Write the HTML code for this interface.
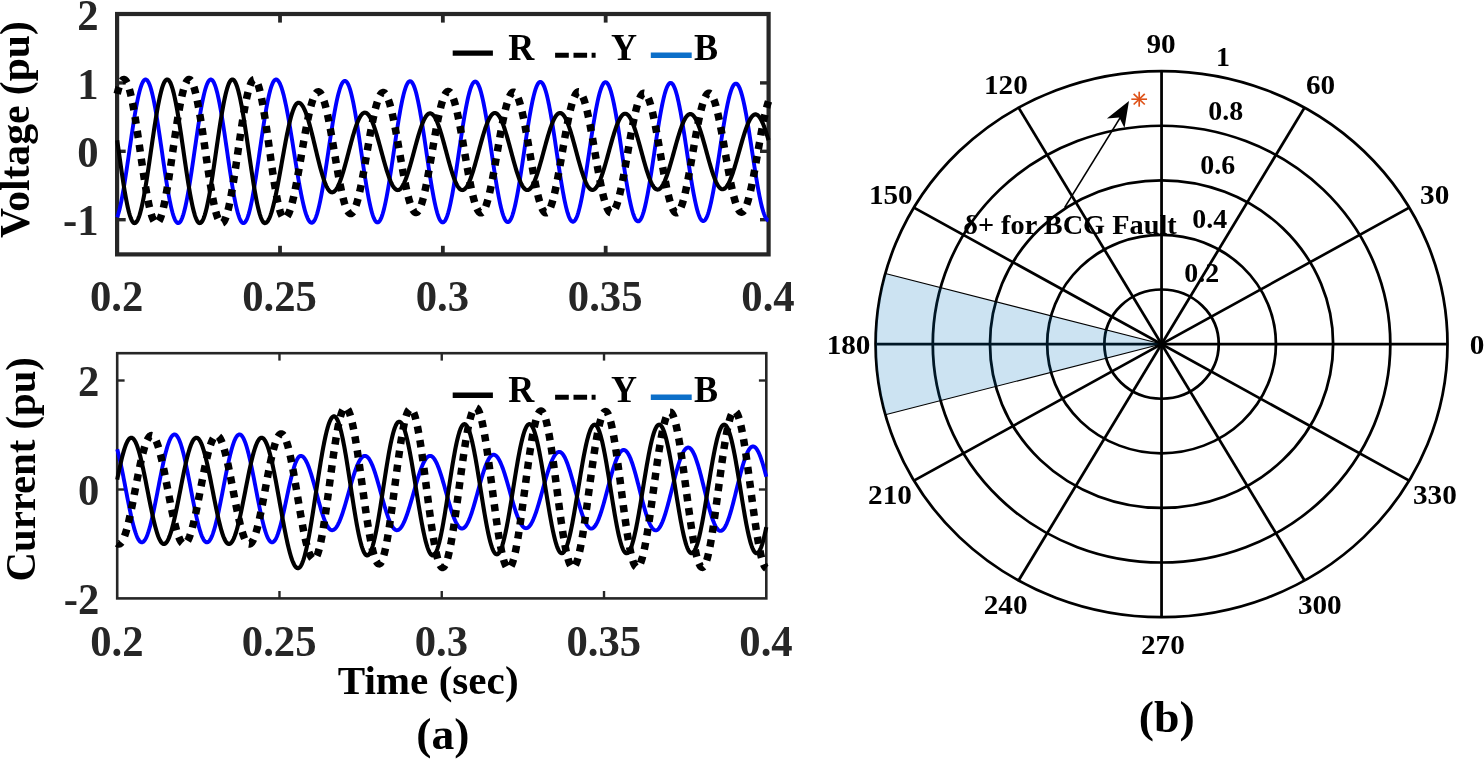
<!DOCTYPE html>
<html lang="en"><head><meta charset="utf-8"><title>Figure</title>
<style>html,body{margin:0;padding:0;background:#fff;}body{width:1484px;height:759px;overflow:hidden;}svg{display:block;}text{font-family:"Liberation Serif","Times New Roman",serif;font-weight:bold;}</style>
</head><body>
<svg width="1484" height="759" viewBox="0 0 1484 759">
<rect x="0" y="0" width="1484" height="759" fill="#fff"/>
<defs>
<clipPath id="ct"><rect x="109.2" y="14.1" width="667.3" height="240.2"/></clipPath>
<clipPath id="cb"><rect x="109.2" y="353.2" width="665.1" height="245.2"/></clipPath>
</defs>
<g stroke="#262626" fill="none">
<rect x="117.10" y="14.00" width="651.50" height="240.40" stroke-width="4.2"/>
<line x1="280.02" y1="14.00" x2="280.02" y2="22.60" stroke-width="3.8"/>
<line x1="280.02" y1="254.40" x2="280.02" y2="245.80" stroke-width="3.8"/>
<line x1="442.85" y1="14.00" x2="442.85" y2="22.60" stroke-width="3.8"/>
<line x1="442.85" y1="254.40" x2="442.85" y2="245.80" stroke-width="3.8"/>
<line x1="605.67" y1="14.00" x2="605.67" y2="22.60" stroke-width="3.8"/>
<line x1="605.67" y1="254.40" x2="605.67" y2="245.80" stroke-width="3.8"/>
<line x1="117.10" y1="82.90" x2="125.70" y2="82.90" stroke-width="3.4"/>
<line x1="768.60" y1="82.90" x2="760.00" y2="82.90" stroke-width="3.4"/>
<line x1="117.10" y1="151.30" x2="125.70" y2="151.30" stroke-width="3.4"/>
<line x1="768.60" y1="151.30" x2="760.00" y2="151.30" stroke-width="3.4"/>
<line x1="117.10" y1="219.70" x2="125.70" y2="219.70" stroke-width="3.4"/>
<line x1="768.60" y1="219.70" x2="760.00" y2="219.70" stroke-width="3.4"/>
</g>
<g clip-path="url(#ct)" fill="none" stroke-linejoin="round">
<path d="M117.20 217.32 L117.70 215.88 L118.20 214.29 L118.70 212.56 L119.20 210.68 L119.70 208.67 L120.20 206.52 L120.70 204.24 L121.20 201.85 L121.70 199.33 L122.20 196.70 L122.70 193.97 L123.20 191.14 L123.70 188.22 L124.20 185.21 L124.70 182.12 L125.20 178.96 L125.70 175.74 L126.20 172.46 L126.70 169.13 L127.20 165.76 L127.70 162.35 L128.20 158.92 L128.70 155.47 L129.20 152.02 L129.70 148.56 L130.20 145.11 L130.70 141.67 L131.20 138.25 L131.70 134.87 L132.20 131.52 L132.70 128.22 L133.20 124.97 L133.69 121.78 L134.19 118.66 L134.69 115.62 L135.19 112.66 L135.69 109.79 L136.19 107.02 L136.69 104.35 L137.19 101.78 L137.69 99.34 L138.19 97.01 L138.69 94.81 L139.19 92.74 L139.69 90.81 L140.19 89.01 L140.69 87.36 L141.19 85.86 L141.69 84.51 L142.19 83.32 L142.69 82.28 L143.19 81.41 L143.69 80.69 L144.19 80.14 L144.69 79.76 L145.19 79.54 L145.69 79.48 L146.19 79.60 L146.69 79.88 L147.19 80.32 L147.69 80.93 L148.19 81.71 L148.69 82.64 L149.19 83.74 L149.69 84.99 L150.19 86.39 L150.69 87.95 L151.19 89.65 L151.69 91.50 L152.19 93.48 L152.69 95.60 L153.19 97.85 L153.69 100.22 L154.19 102.71 L154.69 105.31 L155.19 108.02 L155.69 110.83 L156.19 113.73 L156.69 116.72 L157.19 119.80 L157.69 122.94 L158.19 126.15 L158.69 129.42 L159.19 132.74 L159.69 136.10 L160.19 139.50 L160.69 142.92 L161.19 146.37 L161.69 149.82 L162.19 153.28 L162.69 156.74 L163.19 160.18 L163.69 163.60 L164.19 166.99 L164.69 170.35 L165.19 173.66 L165.69 176.92 L166.18 180.12 L166.68 183.26 L167.18 186.32 L167.68 189.29 L168.18 192.18 L168.68 194.98 L169.18 197.67 L169.68 200.26 L170.18 202.73 L170.68 205.09 L171.18 207.32 L171.68 209.42 L172.18 211.38 L172.68 213.21 L173.18 214.89 L173.68 216.42 L174.18 217.80 L174.68 219.03 L175.18 220.10 L175.68 221.02 L176.18 221.77 L176.68 222.35 L177.18 222.77 L177.68 223.03 L178.18 223.12 L178.68 223.04 L179.18 222.80 L179.68 222.39 L180.18 221.82 L180.68 221.08 L181.18 220.18 L181.68 219.12 L182.18 217.90 L182.68 216.53 L183.18 215.01 L183.68 213.34 L184.18 211.52 L184.68 209.57 L185.18 207.48 L185.68 205.26 L186.18 202.92 L186.68 200.45 L187.18 197.87 L187.68 195.19 L188.18 192.40 L188.68 189.51 L189.18 186.54 L189.68 183.49 L190.18 180.36 L190.68 177.16 L191.18 173.91 L191.68 170.60 L192.18 167.24 L192.68 163.85 L193.18 160.43 L193.68 156.99 L194.18 153.54 L194.68 150.08 L195.18 146.62 L195.68 143.18 L196.18 139.75 L196.68 136.35 L197.18 132.99 L197.68 129.66 L198.18 126.39 L198.67 123.18 L199.17 120.03 L199.67 116.95 L200.17 113.95 L200.67 111.04 L201.17 108.23 L201.67 105.51 L202.17 102.90 L202.67 100.40 L203.17 98.02 L203.67 95.76 L204.17 93.63 L204.67 91.64 L205.17 89.78 L205.67 88.07 L206.17 86.50 L206.67 85.09 L207.17 83.82 L207.67 82.72 L208.17 81.77 L208.67 80.99 L209.17 80.36 L209.67 79.90 L210.17 79.61 L210.67 79.49 L211.17 79.53 L211.67 79.73 L212.17 80.11 L212.67 80.64 L213.17 81.35 L213.67 82.21 L214.17 83.23 L214.67 84.42 L215.17 85.75 L215.67 87.24 L216.17 88.88 L216.67 90.67 L217.17 92.59 L217.67 94.65 L218.17 96.84 L218.67 99.16 L219.17 101.60 L219.67 104.15 L220.17 106.81 L220.67 109.58 L221.17 112.44 L221.67 115.40 L222.17 118.43 L222.67 121.55 L223.17 124.73 L223.67 127.97 L224.17 131.27 L224.67 134.61 L225.17 138.00 L225.67 141.41 L226.17 144.85 L226.67 148.30 L227.17 151.76 L227.67 155.22 L228.17 158.66 L228.67 162.10 L229.17 165.50 L229.67 168.88 L230.17 172.21 L230.67 175.49 L231.17 178.72 L231.66 181.88 L232.16 184.98 L232.66 187.99 L233.16 190.92 L233.66 193.76 L234.16 196.50 L234.66 199.14 L235.16 201.66 L235.66 204.07 L236.16 206.35 L236.66 208.51 L237.16 210.53 L237.66 212.42 L238.16 214.17 L238.66 215.76 L239.16 217.21 L239.66 218.51 L240.16 219.65 L240.66 220.63 L241.16 221.46 L241.66 222.11 L242.16 222.61 L242.66 222.94 L243.16 223.10 L243.66 223.10 L244.16 222.93 L244.66 222.59 L245.16 222.09 L245.66 221.42 L246.16 220.59 L246.66 219.60 L247.16 218.46 L247.66 217.15 L248.16 215.70 L248.66 214.09 L249.16 212.34 L249.66 210.45 L250.16 208.42 L250.66 206.25 L251.16 203.96 L251.66 201.55 L252.16 199.02 L252.66 196.38 L253.16 193.64 L253.66 190.79 L254.16 187.86 L254.66 184.84 L255.16 181.74 L255.66 178.58 L256.16 175.35 L256.66 172.06 L257.16 168.72 L257.66 165.35 L258.16 161.94 L258.66 158.51 L259.16 155.06 L259.66 151.60 L260.16 148.14 L260.66 144.69 L261.16 141.26 L261.66 137.84 L262.16 134.46 L262.66 131.12 L263.16 127.83 L263.66 124.58 L264.15 121.41 L264.65 118.30 L265.15 115.26 L265.65 112.31 L266.15 109.45 L266.65 106.69 L267.15 104.03 L267.65 101.48 L268.15 99.05 L268.65 96.74 L269.15 94.55 L269.65 92.50 L270.15 90.58 L270.65 88.81 L271.15 87.17 L271.65 85.69 L272.15 84.36 L272.65 83.19 L273.15 82.17 L273.65 81.31 L274.15 80.62 L274.65 80.09 L275.15 79.72 L275.65 79.52 L276.15 79.49 L276.65 79.60 L277.15 79.85 L277.65 80.23 L278.15 80.76 L278.65 81.42 L279.15 82.22 L279.65 83.14 L280.15 84.20 L280.65 85.39 L281.15 86.71 L281.65 88.15 L282.15 89.72 L282.65 91.40 L283.15 93.20 L283.65 95.11 L284.15 97.13 L284.65 99.25 L285.15 101.47 L285.65 103.79 L286.15 106.20 L286.65 108.70 L287.15 111.28 L287.65 113.94 L288.15 116.66 L288.65 119.46 L289.15 122.32 L289.65 125.23 L290.15 128.19 L290.65 131.20 L291.15 134.24 L291.65 137.32 L292.15 140.43 L292.65 143.55 L293.15 146.69 L293.65 149.84 L294.15 152.99 L294.65 156.14 L295.15 159.28 L295.65 162.40 L296.15 165.50 L296.64 168.57 L297.14 171.61 L297.64 174.61 L298.14 177.57 L298.64 180.47 L299.14 183.31 L299.64 186.10 L300.14 188.81 L300.64 191.46 L301.14 194.02 L301.64 196.50 L302.14 198.90 L302.64 201.20 L303.14 203.41 L303.64 205.51 L304.14 207.51 L304.64 209.40 L305.14 211.18 L305.64 212.84 L306.14 214.38 L306.64 215.80 L307.14 217.09 L307.64 218.26 L308.14 219.29 L308.64 220.20 L309.14 220.97 L309.64 221.60 L310.14 222.10 L310.64 222.47 L311.14 222.69 L311.64 222.78 L312.14 222.72 L312.64 222.50 L313.14 222.12 L313.64 221.59 L314.14 220.90 L314.64 220.05 L315.14 219.05 L315.64 217.91 L316.14 216.61 L316.64 215.17 L317.14 213.59 L317.64 211.87 L318.14 210.01 L318.64 208.03 L319.14 205.91 L319.64 203.68 L320.14 201.33 L320.64 198.88 L321.14 196.31 L321.64 193.65 L322.14 190.89 L322.64 188.05 L323.14 185.12 L323.64 182.12 L324.14 179.05 L324.64 175.93 L325.14 172.74 L325.64 169.51 L326.14 166.24 L326.64 162.94 L327.14 159.62 L327.64 156.27 L328.14 152.92 L328.64 149.56 L329.13 146.21 L329.63 142.87 L330.13 139.56 L330.63 136.26 L331.13 133.01 L331.63 129.79 L332.13 126.63 L332.63 123.52 L333.13 120.47 L333.63 117.50 L334.13 114.60 L334.63 111.78 L335.13 109.06 L335.63 106.43 L336.13 103.90 L336.63 101.48 L337.13 99.17 L337.63 96.98 L338.13 94.91 L338.63 92.97 L339.13 91.16 L339.63 89.49 L340.13 87.95 L340.63 86.56 L341.13 85.31 L341.63 84.22 L342.13 83.27 L342.63 82.48 L343.13 81.84 L343.63 81.36 L344.13 81.04 L344.63 80.87 L345.13 80.87 L345.63 81.02 L346.13 81.34 L346.63 81.83 L347.13 82.48 L347.63 83.28 L348.13 84.25 L348.63 85.37 L349.13 86.65 L349.63 88.07 L350.13 89.65 L350.63 91.36 L351.13 93.22 L351.63 95.21 L352.13 97.34 L352.63 99.59 L353.13 101.96 L353.63 104.44 L354.13 107.04 L354.63 109.74 L355.13 112.53 L355.63 115.42 L356.13 118.39 L356.63 121.44 L357.13 124.56 L357.63 127.74 L358.13 130.98 L358.63 134.26 L359.13 137.58 L359.63 140.94 L360.13 144.32 L360.63 147.72 L361.13 151.13 L361.62 154.54 L362.12 157.94 L362.62 161.33 L363.12 164.70 L363.62 168.03 L364.12 171.33 L364.62 174.58 L365.12 177.78 L365.62 180.92 L366.12 183.99 L366.62 186.98 L367.12 189.89 L367.62 192.72 L368.12 195.45 L368.62 198.07 L369.12 200.59 L369.62 203.00 L370.12 205.28 L370.62 207.45 L371.12 209.48 L371.62 211.38 L372.12 213.14 L372.62 214.76 L373.12 216.23 L373.62 217.55 L374.12 218.72 L374.62 219.73 L375.12 220.58 L375.62 221.28 L376.12 221.81 L376.62 222.18 L377.12 222.39 L377.62 222.43 L378.12 222.31 L378.62 222.02 L379.12 221.57 L379.62 220.96 L380.12 220.19 L380.62 219.26 L381.12 218.17 L381.62 216.93 L382.12 215.53 L382.62 213.99 L383.12 212.30 L383.62 210.48 L384.12 208.51 L384.62 206.42 L385.12 204.19 L385.62 201.85 L386.12 199.39 L386.62 196.81 L387.12 194.14 L387.62 191.36 L388.12 188.49 L388.62 185.54 L389.12 182.51 L389.62 179.40 L390.12 176.24 L390.62 173.01 L391.12 169.74 L391.62 166.42 L392.12 163.08 L392.62 159.70 L393.12 156.31 L393.62 152.90 L394.11 149.50 L394.61 146.09 L395.11 142.71 L395.61 139.34 L396.11 136.00 L396.61 132.70 L397.11 129.45 L397.61 126.24 L398.11 123.10 L398.61 120.02 L399.11 117.01 L399.61 114.09 L400.11 111.26 L400.61 108.51 L401.11 105.87 L401.61 103.34 L402.11 100.92 L402.61 98.62 L403.11 96.44 L403.61 94.39 L404.11 92.47 L404.61 90.70 L405.11 89.06 L405.61 87.57 L406.11 86.23 L406.61 85.04 L407.11 84.01 L407.61 83.14 L408.11 82.42 L408.61 81.87 L409.11 81.48 L409.61 81.25 L410.11 81.19 L410.61 81.29 L411.11 81.56 L411.61 81.98 L412.11 82.57 L412.61 83.32 L413.11 84.23 L413.61 85.29 L414.11 86.51 L414.61 87.88 L415.11 89.39 L415.61 91.05 L416.11 92.85 L416.61 94.79 L417.11 96.86 L417.61 99.06 L418.11 101.37 L418.61 103.81 L419.11 106.35 L419.61 109.01 L420.11 111.76 L420.61 114.60 L421.11 117.53 L421.61 120.53 L422.11 123.61 L422.61 126.76 L423.11 129.96 L423.61 133.22 L424.11 136.51 L424.61 139.85 L425.11 143.21 L425.61 146.59 L426.11 149.98 L426.60 153.38 L427.10 156.77 L427.60 160.15 L428.10 163.51 L428.60 166.85 L429.10 170.15 L429.60 173.40 L430.10 176.61 L430.60 179.76 L431.10 182.85 L431.60 185.86 L432.10 188.80 L432.60 191.65 L433.10 194.41 L433.60 197.06 L434.10 199.62 L434.60 202.06 L435.10 204.39 L435.60 206.60 L436.10 208.68 L436.60 210.62 L437.10 212.44 L437.60 214.11 L438.10 215.63 L438.60 217.01 L439.10 218.24 L439.60 219.32 L440.10 220.24 L440.60 221.00 L441.10 221.60 L441.60 222.04 L442.10 222.32 L442.60 222.43 L443.10 222.38 L443.60 222.17 L444.10 221.79 L444.60 221.25 L445.10 220.55 L445.60 219.69 L446.10 218.67 L446.60 217.49 L447.10 216.16 L447.60 214.68 L448.10 213.06 L448.60 211.29 L449.10 209.39 L449.60 207.35 L450.10 205.18 L450.60 202.88 L451.10 200.47 L451.60 197.95 L452.10 195.31 L452.60 192.58 L453.10 189.75 L453.60 186.84 L454.10 183.84 L454.60 180.77 L455.10 177.63 L455.60 174.43 L456.10 171.18 L456.60 167.88 L457.10 164.55 L457.60 161.18 L458.10 157.80 L458.60 154.40 L459.10 151.00 L459.59 147.60 L460.09 144.20 L460.59 140.83 L461.09 137.48 L461.59 134.17 L462.09 130.90 L462.59 127.68 L463.09 124.51 L463.59 121.41 L464.09 118.38 L464.59 115.43 L465.09 112.56 L465.59 109.79 L466.09 107.11 L466.59 104.54 L467.09 102.08 L467.59 99.74 L468.09 97.52 L468.59 95.42 L469.09 93.46 L469.59 91.63 L470.09 89.95 L470.59 88.41 L471.09 87.02 L471.59 85.78 L472.09 84.69 L472.59 83.76 L473.09 82.99 L473.59 82.38 L474.09 81.94 L474.59 81.65 L475.09 81.54 L475.59 81.58 L476.09 81.79 L476.59 82.16 L477.09 82.69 L477.59 83.39 L478.09 84.24 L478.59 85.25 L479.09 86.41 L479.59 87.72 L480.09 89.19 L480.59 90.80 L481.09 92.55 L481.59 94.43 L482.09 96.45 L482.59 98.60 L483.09 100.88 L483.59 103.27 L484.09 105.77 L484.59 108.38 L485.09 111.09 L485.59 113.90 L486.09 116.79 L486.59 119.76 L487.09 122.81 L487.59 125.93 L488.09 129.11 L488.59 132.34 L489.09 135.61 L489.59 138.92 L490.09 142.26 L490.59 145.63 L491.09 149.00 L491.59 152.39 L492.08 155.77 L492.58 159.15 L493.08 162.50 L493.58 165.84 L494.08 169.14 L494.58 172.40 L495.08 175.61 L495.58 178.76 L496.08 181.86 L496.58 184.88 L497.08 187.83 L497.58 190.69 L498.08 193.47 L498.58 196.15 L499.08 198.72 L499.58 201.19 L500.08 203.54 L500.58 205.77 L501.08 207.87 L501.58 209.85 L502.08 211.69 L502.58 213.39 L503.08 214.95 L503.58 216.37 L504.08 217.63 L504.58 218.74 L505.08 219.69 L505.58 220.49 L506.08 221.13 L506.58 221.61 L507.08 221.93 L507.58 222.08 L508.08 222.07 L508.58 221.90 L509.08 221.56 L509.58 221.06 L510.08 220.40 L510.58 219.59 L511.08 218.61 L511.58 217.48 L512.08 216.20 L512.58 214.77 L513.08 213.19 L513.58 211.47 L514.08 209.61 L514.58 207.62 L515.08 205.50 L515.58 203.25 L516.08 200.88 L516.58 198.41 L517.08 195.82 L517.58 193.13 L518.08 190.34 L518.58 187.47 L519.08 184.51 L519.58 181.48 L520.08 178.38 L520.58 175.21 L521.08 172.00 L521.58 168.73 L522.08 165.43 L522.58 162.10 L523.08 158.74 L523.58 155.36 L524.08 151.98 L524.57 148.60 L525.07 145.23 L525.57 141.87 L526.07 138.54 L526.57 135.24 L527.07 131.97 L527.57 128.75 L528.07 125.59 L528.57 122.49 L529.07 119.46 L529.57 116.50 L530.07 113.63 L530.57 110.84 L531.07 108.15 L531.57 105.56 L532.07 103.08 L532.57 100.72 L533.07 98.47 L533.57 96.35 L534.07 94.36 L534.57 92.50 L535.07 90.78 L535.57 89.20 L536.07 87.77 L536.57 86.49 L537.07 85.36 L537.57 84.38 L538.07 83.56 L538.57 82.91 L539.07 82.41 L539.57 82.07 L540.07 81.90 L540.57 81.89 L541.07 82.04 L541.57 82.36 L542.07 82.83 L542.57 83.47 L543.07 84.27 L543.57 85.22 L544.07 86.33 L544.57 87.59 L545.07 89.00 L545.57 90.56 L546.07 92.26 L546.57 94.10 L547.07 96.07 L547.57 98.17 L548.07 100.40 L548.57 102.74 L549.07 105.20 L549.57 107.77 L550.07 110.44 L550.57 113.21 L551.07 116.07 L551.57 119.01 L552.07 122.03 L552.57 125.11 L553.07 128.26 L553.57 131.46 L554.07 134.71 L554.57 138.00 L555.07 141.33 L555.57 144.67 L556.07 148.04 L556.57 151.41 L557.06 154.78 L557.56 158.15 L558.06 161.50 L558.56 164.83 L559.06 168.13 L559.56 171.39 L560.06 174.60 L560.56 177.77 L561.06 180.87 L561.56 183.90 L562.06 186.86 L562.56 189.74 L563.06 192.53 L563.56 195.22 L564.06 197.82 L564.56 200.30 L565.06 202.68 L565.56 204.93 L566.06 207.07 L566.56 209.07 L567.06 210.94 L567.56 212.67 L568.06 214.26 L568.56 215.71 L569.06 217.01 L569.56 218.15 L570.06 219.14 L570.56 219.98 L571.06 220.65 L571.56 221.17 L572.06 221.52 L572.56 221.71 L573.06 221.74 L573.56 221.61 L574.06 221.32 L574.56 220.86 L575.06 220.25 L575.56 219.47 L576.06 218.54 L576.56 217.46 L577.06 216.22 L577.56 214.84 L578.06 213.31 L578.56 211.63 L579.06 209.82 L579.56 207.88 L580.06 205.80 L580.56 203.60 L581.06 201.28 L581.56 198.85 L582.06 196.30 L582.56 193.66 L583.06 190.92 L583.56 188.08 L584.06 185.17 L584.56 182.17 L585.06 179.11 L585.56 175.98 L586.06 172.80 L586.56 169.57 L587.06 166.30 L587.56 162.99 L588.06 159.66 L588.56 156.32 L589.06 152.96 L589.55 149.60 L590.05 146.24 L590.55 142.90 L591.05 139.58 L591.55 136.29 L592.05 133.04 L592.55 129.82 L593.05 126.66 L593.55 123.56 L594.05 120.53 L594.55 117.57 L595.05 114.68 L595.55 111.89 L596.05 109.19 L596.55 106.58 L597.05 104.08 L597.55 101.70 L598.05 99.43 L598.55 97.28 L599.05 95.26 L599.55 93.37 L600.05 91.61 L600.55 90.00 L601.05 88.53 L601.55 87.21 L602.05 86.03 L602.55 85.01 L603.05 84.15 L603.55 83.44 L604.05 82.90 L604.55 82.51 L605.05 82.28 L605.55 82.22 L606.05 82.31 L606.55 82.57 L607.05 82.99 L607.55 83.57 L608.05 84.31 L608.55 85.20 L609.05 86.25 L609.55 87.45 L610.05 88.80 L610.55 90.29 L611.05 91.93 L611.55 93.71 L612.05 95.62 L612.55 97.66 L613.05 99.83 L613.55 102.12 L614.05 104.52 L614.55 107.03 L615.05 109.65 L615.55 112.37 L616.05 115.17 L616.55 118.07 L617.05 121.04 L617.55 124.08 L618.05 127.18 L618.55 130.34 L619.05 133.56 L619.55 136.81 L620.05 140.10 L620.55 143.42 L621.05 146.76 L621.55 150.10 L622.04 153.46 L622.54 156.80 L623.04 160.14 L623.54 163.46 L624.04 166.75 L624.54 170.00 L625.04 173.22 L625.54 176.38 L626.04 179.49 L626.54 182.53 L627.04 185.50 L627.54 188.40 L628.04 191.20 L628.54 193.92 L629.04 196.54 L629.54 199.06 L630.04 201.46 L630.54 203.75 L631.04 205.92 L631.54 207.97 L632.04 209.88 L632.54 211.66 L633.04 213.30 L633.54 214.80 L634.04 216.15 L634.54 217.36 L635.04 218.41 L635.54 219.30 L636.04 220.04 L636.54 220.63 L637.04 221.05 L637.54 221.31 L638.04 221.41 L638.54 221.35 L639.04 221.13 L639.54 220.74 L640.04 220.20 L640.54 219.50 L641.04 218.64 L641.54 217.63 L642.04 216.47 L642.54 215.15 L643.04 213.69 L643.54 212.09 L644.04 210.34 L644.54 208.46 L645.04 206.45 L645.54 204.32 L646.04 202.06 L646.54 199.69 L647.04 197.20 L647.54 194.61 L648.04 191.93 L648.54 189.15 L649.04 186.28 L649.54 183.33 L650.04 180.32 L650.54 177.23 L651.04 174.09 L651.54 170.90 L652.04 167.66 L652.54 164.39 L653.04 161.08 L653.54 157.76 L654.04 154.43 L654.53 151.09 L655.03 147.75 L655.53 144.42 L656.03 141.11 L656.53 137.83 L657.03 134.57 L657.53 131.36 L658.03 128.20 L658.53 125.10 L659.03 122.05 L659.53 119.08 L660.03 116.19 L660.53 113.37 L661.03 110.65 L661.53 108.03 L662.03 105.50 L662.53 103.09 L663.03 100.79 L663.53 98.61 L664.03 96.55 L664.53 94.63 L665.03 92.83 L665.53 91.18 L666.03 89.67 L666.53 88.30 L667.03 87.08 L667.53 86.01 L668.03 85.10 L668.53 84.34 L669.03 83.74 L669.53 83.30 L670.03 83.02 L670.53 82.90 L671.03 82.95 L671.53 83.15 L672.03 83.51 L672.53 84.03 L673.03 84.71 L673.53 85.55 L674.03 86.54 L674.53 87.68 L675.03 88.98 L675.53 90.42 L676.03 92.00 L676.53 93.72 L677.03 95.58 L677.53 97.57 L678.03 99.69 L678.53 101.92 L679.03 104.28 L679.53 106.74 L680.03 109.31 L680.53 111.98 L681.03 114.75 L681.53 117.60 L682.03 120.53 L682.53 123.53 L683.03 126.60 L683.53 129.73 L684.03 132.91 L684.53 136.13 L685.03 139.39 L685.53 142.68 L686.03 145.99 L686.53 149.32 L687.03 152.65 L687.52 155.98 L688.02 159.30 L688.52 162.61 L689.02 165.89 L689.52 169.13 L690.02 172.34 L690.52 175.50 L691.02 178.61 L691.52 181.65 L692.02 184.62 L692.52 187.52 L693.02 190.34 L693.52 193.06 L694.02 195.69 L694.52 198.22 L695.02 200.65 L695.52 202.95 L696.02 205.14 L696.52 207.21 L697.02 209.15 L697.52 210.95 L698.02 212.62 L698.52 214.14 L699.02 215.53 L699.52 216.76 L700.02 217.84 L700.52 218.77 L701.02 219.55 L701.52 220.16 L702.02 220.62 L702.52 220.92 L703.02 221.06 L703.52 221.04 L704.02 220.85 L704.52 220.51 L705.02 220.01 L705.52 219.36 L706.02 218.55 L706.52 217.58 L707.02 216.47 L707.52 215.20 L708.02 213.79 L708.52 212.24 L709.02 210.54 L709.52 208.71 L710.02 206.76 L710.52 204.67 L711.02 202.47 L711.52 200.14 L712.02 197.71 L712.52 195.17 L713.02 192.53 L713.52 189.80 L714.02 186.98 L714.52 184.08 L715.02 181.11 L715.52 178.07 L716.02 174.97 L716.52 171.82 L717.02 168.63 L717.52 165.39 L718.02 162.13 L718.52 158.84 L719.02 155.54 L719.52 152.23 L720.01 148.92 L720.51 145.61 L721.01 142.33 L721.51 139.07 L722.01 135.83 L722.51 132.64 L723.01 129.49 L723.51 126.39 L724.01 123.36 L724.51 120.39 L725.01 117.50 L725.51 114.68 L726.01 111.96 L726.51 109.33 L727.01 106.79 L727.51 104.37 L728.01 102.05 L728.51 99.85 L729.01 97.77 L729.51 95.82 L730.01 94.00 L730.51 92.32 L731.01 90.77 L731.51 89.37 L732.01 88.12 L732.51 87.01 L733.01 86.05 L733.51 85.25 L734.01 84.60 L734.51 84.11 L735.01 83.78 L735.51 83.61 L736.01 83.60 L736.51 83.74 L737.01 84.04 L737.51 84.50 L738.01 85.11 L738.51 85.87 L739.01 86.79 L739.51 87.85 L740.01 89.07 L740.51 90.42 L741.01 91.92 L741.51 93.56 L742.01 95.32 L742.51 97.22 L743.01 99.25 L743.51 101.39 L744.01 103.65 L744.51 106.02 L745.01 108.50 L745.51 111.08 L746.01 113.75 L746.51 116.51 L747.01 119.35 L747.51 122.26 L748.01 125.24 L748.51 128.29 L749.01 131.38 L749.51 134.53 L750.01 137.71 L750.51 140.93 L751.01 144.17 L751.51 147.44 L752.01 150.71 L752.50 153.98 L753.00 157.25 L753.50 160.51 L754.00 163.75 L754.50 166.96 L755.00 170.13 L755.50 173.27 L756.00 176.36 L756.50 179.39 L757.00 182.36 L757.50 185.25 L758.00 188.08 L758.50 190.81 L759.00 193.47 L759.50 196.02 L760.00 198.47 L760.50 200.82 L761.00 203.06 L761.50 205.18 L762.00 207.17 L762.50 209.04 L763.00 210.78 L763.50 212.39 L764.00 213.86 L764.50 215.18 L765.00 216.36 L765.50 217.39 L766.00 218.28 L766.50 219.01 L767.00 219.58 L767.50 220.00 L768.00 220.27 L768.50 220.38" stroke="#0000ff" stroke-width="3.9"/>
<path d="M117.20 140.31 L117.70 143.84 L118.20 147.39 L118.70 150.94 L119.20 154.50 L119.70 158.05 L120.20 161.58 L120.70 165.09 L121.20 168.56 L121.70 171.99 L122.20 175.37 L122.70 178.69 L123.20 181.94 L123.70 185.12 L124.20 188.22 L124.70 191.22 L125.20 194.13 L125.70 196.93 L126.20 199.62 L126.70 202.20 L127.20 204.64 L127.70 206.96 L128.20 209.14 L128.70 211.17 L129.20 213.07 L129.70 214.80 L130.20 216.39 L130.70 217.81 L131.20 219.07 L131.70 220.17 L132.20 221.09 L132.70 221.84 L133.20 222.42 L133.69 222.83 L134.19 223.06 L134.69 223.12 L135.19 223.00 L135.69 222.72 L136.19 222.27 L136.69 221.66 L137.19 220.89 L137.69 219.95 L138.19 218.86 L138.69 217.60 L139.19 216.20 L139.69 214.64 L140.19 212.94 L140.69 211.09 L141.19 209.11 L141.69 206.99 L142.19 204.74 L142.69 202.37 L143.19 199.88 L143.69 197.27 L144.19 194.56 L144.69 191.75 L145.19 188.85 L145.69 185.86 L146.19 182.78 L146.69 179.64 L147.19 176.43 L147.69 173.16 L148.19 169.84 L148.69 166.48 L149.19 163.08 L149.69 159.66 L150.19 156.21 L150.69 152.76 L151.19 149.30 L151.69 145.84 L152.19 142.40 L152.69 138.98 L153.19 135.59 L153.69 132.23 L154.19 128.92 L154.69 125.66 L155.19 122.46 L155.69 119.32 L156.19 116.26 L156.69 113.29 L157.19 110.40 L157.69 107.60 L158.19 104.91 L158.69 102.32 L159.19 99.85 L159.69 97.50 L160.19 95.27 L160.69 93.17 L161.19 91.21 L161.69 89.38 L162.19 87.70 L162.69 86.17 L163.19 84.79 L163.69 83.56 L164.19 82.49 L164.69 81.58 L165.19 80.83 L165.69 80.24 L166.18 79.82 L166.68 79.57 L167.18 79.48 L167.68 79.56 L168.18 79.80 L168.68 80.21 L169.18 80.79 L169.68 81.53 L170.18 82.43 L170.68 83.49 L171.18 84.71 L171.68 86.08 L172.18 87.60 L172.68 89.27 L173.18 91.09 L173.68 93.04 L174.18 95.14 L174.68 97.36 L175.18 99.70 L175.68 102.17 L176.18 104.75 L176.68 107.43 L177.18 110.22 L177.68 113.11 L178.18 116.08 L178.68 119.13 L179.18 122.26 L179.68 125.46 L180.18 128.72 L180.68 132.03 L181.18 135.38 L181.68 138.77 L182.18 142.19 L182.68 145.63 L183.18 149.08 L183.68 152.54 L184.18 156.00 L184.68 159.44 L185.18 162.87 L185.68 166.27 L186.18 169.64 L186.68 172.96 L187.18 176.23 L187.68 179.44 L188.18 182.59 L188.68 185.67 L189.18 188.67 L189.68 191.58 L190.18 194.39 L190.68 197.11 L191.18 199.72 L191.68 202.22 L192.18 204.60 L192.68 206.85 L193.18 208.98 L193.68 210.97 L194.18 212.83 L194.68 214.54 L195.18 216.11 L195.68 217.52 L196.18 218.78 L196.68 219.89 L197.18 220.84 L197.68 221.62 L198.18 222.24 L198.67 222.70 L199.17 222.99 L199.67 223.11 L200.17 223.07 L200.67 222.87 L201.17 222.49 L201.67 221.95 L202.17 221.25 L202.67 220.38 L203.17 219.36 L203.67 218.17 L204.17 216.84 L204.67 215.34 L205.17 213.71 L205.67 211.92 L206.17 210.00 L206.67 207.94 L207.17 205.74 L207.67 203.43 L208.17 200.99 L208.67 198.43 L209.17 195.77 L209.67 193.00 L210.17 190.14 L210.67 187.18 L211.17 184.14 L211.67 181.03 L212.17 177.85 L212.67 174.61 L213.17 171.31 L213.67 167.96 L214.17 164.58 L214.67 161.17 L215.17 157.73 L215.67 154.28 L216.17 150.82 L216.67 147.36 L217.17 143.91 L217.67 140.48 L218.17 137.07 L218.67 133.70 L219.17 130.37 L219.67 127.09 L220.17 123.86 L220.67 120.69 L221.17 117.60 L221.67 114.59 L222.17 111.66 L222.67 108.82 L223.17 106.08 L223.67 103.45 L224.17 100.92 L224.67 98.52 L225.17 96.23 L225.67 94.08 L226.17 92.05 L226.67 90.17 L227.17 88.42 L227.67 86.82 L228.17 85.38 L228.67 84.08 L229.17 82.94 L229.67 81.96 L230.17 81.14 L230.67 80.48 L231.17 79.99 L231.66 79.66 L232.16 79.50 L232.66 79.50 L233.16 79.67 L233.66 80.01 L234.16 80.52 L234.66 81.18 L235.16 82.01 L235.66 83.00 L236.16 84.15 L236.66 85.46 L237.16 86.91 L237.66 88.52 L238.16 90.27 L238.66 92.17 L239.16 94.20 L239.66 96.36 L240.16 98.65 L240.66 101.07 L241.16 103.60 L241.66 106.24 L242.16 108.98 L242.66 111.83 L243.16 114.76 L243.66 117.78 L244.16 120.88 L244.66 124.05 L245.16 127.28 L245.66 130.56 L246.16 133.90 L246.66 137.27 L247.16 140.68 L247.66 144.11 L248.16 147.56 L248.66 151.02 L249.16 154.48 L249.66 157.93 L250.16 161.37 L250.66 164.78 L251.16 168.16 L251.66 171.50 L252.16 174.80 L252.66 178.04 L253.16 181.22 L253.66 184.32 L254.16 187.36 L254.66 190.31 L255.16 193.16 L255.66 195.93 L256.16 198.58 L256.66 201.13 L257.16 203.56 L257.66 205.88 L258.16 208.06 L258.66 210.11 L259.16 212.03 L259.66 213.81 L260.16 215.44 L260.66 216.92 L261.16 218.25 L261.66 219.42 L262.16 220.44 L262.66 221.29 L263.16 221.99 L263.66 222.52 L264.15 222.88 L264.65 223.08 L265.15 223.11 L265.65 223.01 L266.15 222.77 L266.65 222.40 L267.15 221.90 L267.65 221.27 L268.15 220.51 L268.65 219.62 L269.15 218.61 L269.65 217.48 L270.15 216.23 L270.65 214.86 L271.15 213.38 L271.65 211.78 L272.15 210.08 L272.65 208.27 L273.15 206.37 L273.65 204.37 L274.15 202.28 L274.65 200.10 L275.15 197.84 L275.65 195.51 L276.15 193.10 L276.65 190.63 L277.15 188.09 L277.65 185.50 L278.15 182.86 L278.65 180.18 L279.15 177.46 L279.65 174.70 L280.15 171.93 L280.65 169.13 L281.15 166.32 L281.65 163.50 L282.15 160.67 L282.65 157.86 L283.15 155.05 L283.65 152.27 L284.15 149.50 L284.65 146.77 L285.15 144.07 L285.65 141.41 L286.15 138.80 L286.65 136.24 L287.15 133.74 L287.65 131.31 L288.15 128.94 L288.65 126.65 L289.15 124.44 L289.65 122.32 L290.15 120.28 L290.65 118.34 L291.15 116.49 L291.65 114.75 L292.15 113.11 L292.65 111.58 L293.15 110.17 L293.65 108.87 L294.15 107.69 L294.65 106.63 L295.15 105.69 L295.65 104.88 L296.15 104.20 L296.64 103.64 L297.14 103.22 L297.64 102.93 L298.14 102.77 L298.64 102.74 L299.14 102.82 L299.64 102.99 L300.14 103.26 L300.64 103.63 L301.14 104.10 L301.64 104.66 L302.14 105.31 L302.64 106.06 L303.14 106.89 L303.64 107.82 L304.14 108.83 L304.64 109.92 L305.14 111.10 L305.64 112.36 L306.14 113.69 L306.64 115.10 L307.14 116.58 L307.64 118.13 L308.14 119.74 L308.64 121.41 L309.14 123.14 L309.64 124.92 L310.14 126.75 L310.64 128.63 L311.14 130.55 L311.64 132.50 L312.14 134.49 L312.64 136.51 L313.14 138.55 L313.64 140.61 L314.14 142.69 L314.64 144.77 L315.14 146.86 L315.64 148.96 L316.14 151.05 L316.64 153.13 L317.14 155.20 L317.64 157.26 L318.14 159.29 L318.64 161.30 L319.14 163.27 L319.64 165.21 L320.14 167.12 L320.64 168.98 L321.14 170.79 L321.64 172.56 L322.14 174.27 L322.64 175.92 L323.14 177.51 L323.64 179.03 L324.14 180.48 L324.64 181.87 L325.14 183.17 L325.64 184.40 L326.14 185.55 L326.64 186.62 L327.14 187.60 L327.64 188.49 L328.14 189.30 L328.64 190.01 L329.13 190.63 L329.63 191.16 L330.13 191.59 L330.63 191.92 L331.13 192.16 L331.63 192.30 L332.13 192.34 L332.63 192.29 L333.13 192.14 L333.63 191.91 L334.13 191.59 L334.63 191.17 L335.13 190.67 L335.63 190.08 L336.13 189.40 L336.63 188.64 L337.13 187.80 L337.63 186.88 L338.13 185.87 L338.63 184.79 L339.13 183.64 L339.63 182.41 L340.13 181.12 L340.63 179.76 L341.13 178.34 L341.63 176.86 L342.13 175.32 L342.63 173.73 L343.13 172.10 L343.63 170.41 L344.13 168.69 L344.63 166.93 L345.13 165.14 L345.63 163.31 L346.13 161.46 L346.63 159.60 L347.13 157.71 L347.63 155.82 L348.13 153.91 L348.63 152.00 L349.13 150.10 L349.63 148.20 L350.13 146.31 L350.63 144.43 L351.13 142.57 L351.63 140.74 L352.13 138.93 L352.63 137.15 L353.13 135.41 L353.63 133.71 L354.13 132.05 L354.63 130.43 L355.13 128.87 L355.63 127.36 L356.13 125.91 L356.63 124.52 L357.13 123.20 L357.63 121.94 L358.13 120.75 L358.63 119.63 L359.13 118.59 L359.63 117.63 L360.13 116.75 L360.63 115.95 L361.13 115.23 L361.62 114.60 L362.12 114.05 L362.62 113.60 L363.12 113.23 L363.62 112.95 L364.12 112.76 L364.62 112.67 L365.12 112.66 L365.62 112.75 L366.12 112.92 L366.62 113.18 L367.12 113.52 L367.62 113.96 L368.12 114.47 L368.62 115.07 L369.12 115.76 L369.62 116.52 L370.12 117.37 L370.62 118.29 L371.12 119.29 L371.62 120.36 L372.12 121.50 L372.62 122.71 L373.12 123.98 L373.62 125.32 L374.12 126.72 L374.62 128.17 L375.12 129.67 L375.62 131.23 L376.12 132.83 L376.62 134.47 L377.12 136.15 L377.62 137.87 L378.12 139.62 L378.62 141.39 L379.12 143.19 L379.62 145.00 L380.12 146.83 L380.62 148.67 L381.12 150.51 L381.62 152.36 L382.12 154.21 L382.62 156.05 L383.12 157.87 L383.62 159.69 L384.12 161.48 L384.62 163.25 L385.12 165.00 L385.62 166.71 L386.12 168.39 L386.62 170.03 L387.12 171.63 L387.62 173.18 L388.12 174.68 L388.62 176.13 L389.12 177.52 L389.62 178.85 L390.12 180.12 L390.62 181.33 L391.12 182.46 L391.62 183.53 L392.12 184.52 L392.62 185.43 L393.12 186.27 L393.62 187.03 L394.11 187.71 L394.61 188.31 L395.11 188.82 L395.61 189.24 L396.11 189.58 L396.61 189.83 L397.11 190.00 L397.61 190.08 L398.11 190.06 L398.61 189.96 L399.11 189.77 L399.61 189.49 L400.11 189.12 L400.61 188.66 L401.11 188.11 L401.61 187.47 L402.11 186.76 L402.61 185.96 L403.11 185.07 L403.61 184.11 L404.11 183.08 L404.61 181.96 L405.11 180.78 L405.61 179.53 L406.11 178.21 L406.61 176.83 L407.11 175.39 L407.61 173.90 L408.11 172.35 L408.61 170.75 L409.11 169.11 L409.61 167.43 L410.11 165.71 L410.61 163.96 L411.11 162.18 L411.61 160.37 L412.11 158.54 L412.61 156.70 L413.11 154.85 L413.61 152.98 L414.11 151.12 L414.61 149.25 L415.11 147.40 L415.61 145.55 L416.11 143.71 L416.61 141.90 L417.11 140.11 L417.61 138.35 L418.11 136.61 L418.61 134.92 L419.11 133.26 L419.61 131.65 L420.11 130.08 L420.61 128.57 L421.11 127.11 L421.61 125.70 L422.11 124.36 L422.61 123.09 L423.11 121.88 L423.61 120.74 L424.11 119.68 L424.61 118.69 L425.11 117.78 L425.61 116.95 L426.11 116.20 L426.60 115.53 L427.10 114.95 L427.60 114.46 L428.10 114.06 L428.60 113.74 L429.10 113.52 L429.60 113.38 L430.10 113.34 L430.60 113.38 L431.10 113.52 L431.60 113.75 L432.10 114.07 L432.60 114.48 L433.10 114.97 L433.60 115.56 L434.10 116.23 L434.60 116.98 L435.10 117.82 L435.60 118.74 L436.10 119.73 L436.60 120.80 L437.10 121.95 L437.60 123.16 L438.10 124.45 L438.60 125.80 L439.10 127.21 L439.60 128.68 L440.10 130.20 L440.60 131.77 L441.10 133.40 L441.60 135.06 L442.10 136.77 L442.60 138.51 L443.10 140.28 L443.60 142.08 L444.10 143.90 L444.60 145.74 L445.10 147.60 L445.60 149.46 L446.10 151.33 L446.60 153.20 L447.10 155.07 L447.60 156.93 L448.10 158.78 L448.60 160.61 L449.10 162.42 L449.60 164.20 L450.10 165.95 L450.60 167.67 L451.10 169.36 L451.60 171.00 L452.10 172.59 L452.60 174.13 L453.10 175.63 L453.60 177.06 L454.10 178.43 L454.60 179.75 L455.10 180.99 L455.60 182.16 L456.10 183.27 L456.60 184.29 L457.10 185.24 L457.60 186.11 L458.10 186.90 L458.60 187.60 L459.10 188.22 L459.59 188.75 L460.09 189.20 L460.59 189.55 L461.09 189.82 L461.59 189.99 L462.09 190.08 L462.59 190.07 L463.09 189.97 L463.59 189.78 L464.09 189.51 L464.59 189.15 L465.09 188.69 L465.59 188.16 L466.09 187.54 L466.59 186.83 L467.09 186.04 L467.59 185.18 L468.09 184.23 L468.59 183.21 L469.09 182.12 L469.59 180.95 L470.09 179.72 L470.59 178.42 L471.09 177.06 L471.59 175.64 L472.09 174.16 L472.59 172.63 L473.09 171.05 L473.59 169.43 L474.09 167.77 L474.59 166.07 L475.09 164.33 L475.59 162.56 L476.09 160.77 L476.59 158.96 L477.09 157.13 L477.59 155.29 L478.09 153.44 L478.59 151.58 L479.09 149.72 L479.59 147.87 L480.09 146.03 L480.59 144.20 L481.09 142.39 L481.59 140.59 L482.09 138.83 L482.59 137.09 L483.09 135.39 L483.59 133.72 L484.09 132.09 L484.59 130.51 L485.09 128.98 L485.59 127.50 L486.09 126.08 L486.59 124.72 L487.09 123.42 L487.59 122.18 L488.09 121.01 L488.59 119.91 L489.09 118.89 L489.59 117.94 L490.09 117.07 L490.59 116.28 L491.09 115.57 L491.59 114.95 L492.08 114.41 L492.58 113.95 L493.08 113.58 L493.58 113.31 L494.08 113.12 L494.58 113.01 L495.08 113.00 L495.58 113.08 L496.08 113.25 L496.58 113.51 L497.08 113.86 L497.58 114.29 L498.08 114.82 L498.58 115.43 L499.08 116.12 L499.58 116.90 L500.08 117.76 L500.58 118.70 L501.08 119.72 L501.58 120.81 L502.08 121.97 L502.58 123.20 L503.08 124.50 L503.58 125.86 L504.08 127.29 L504.58 128.77 L505.08 130.30 L505.58 131.88 L506.08 133.51 L506.58 135.18 L507.08 136.89 L507.58 138.64 L508.08 140.41 L508.58 142.21 L509.08 144.04 L509.58 145.88 L510.08 147.73 L510.58 149.59 L511.08 151.46 L511.58 153.33 L512.08 155.19 L512.58 157.05 L513.08 158.89 L513.58 160.71 L514.08 162.52 L514.58 164.29 L515.08 166.04 L515.58 167.75 L516.08 169.43 L516.58 171.06 L517.08 172.65 L517.58 174.19 L518.08 175.67 L518.58 177.10 L519.08 178.47 L519.58 179.77 L520.08 181.01 L520.58 182.18 L521.08 183.27 L521.58 184.30 L522.08 185.24 L522.58 186.11 L523.08 186.89 L523.58 187.60 L524.08 188.21 L524.57 188.75 L525.07 189.19 L525.57 189.54 L526.07 189.81 L526.57 189.99 L527.07 190.07 L527.57 190.07 L528.07 189.98 L528.57 189.79 L529.07 189.52 L529.57 189.17 L530.07 188.72 L530.57 188.19 L531.07 187.58 L531.57 186.88 L532.07 186.10 L532.57 185.24 L533.07 184.31 L533.57 183.29 L534.07 182.21 L534.57 181.05 L535.07 179.83 L535.57 178.54 L536.07 177.19 L536.57 175.78 L537.07 174.31 L537.57 172.79 L538.07 171.22 L538.57 169.61 L539.07 167.96 L539.57 166.26 L540.07 164.54 L540.57 162.78 L541.07 161.00 L541.57 159.19 L542.07 157.37 L542.57 155.53 L543.07 153.69 L543.57 151.84 L544.07 149.99 L544.57 148.14 L545.07 146.30 L545.57 144.48 L546.07 142.66 L546.57 140.87 L547.07 139.11 L547.57 137.37 L548.07 135.67 L548.57 134.00 L549.07 132.37 L549.57 130.79 L550.07 129.25 L550.57 127.77 L551.07 126.34 L551.57 124.97 L552.07 123.66 L552.57 122.41 L553.07 121.24 L553.57 120.13 L554.07 119.09 L554.57 118.13 L555.07 117.25 L555.57 116.44 L556.07 115.72 L556.57 115.08 L557.06 114.52 L557.56 114.05 L558.06 113.66 L558.56 113.36 L559.06 113.15 L559.56 113.03 L560.06 113.00 L560.56 113.05 L561.06 113.20 L561.56 113.44 L562.06 113.76 L562.56 114.18 L563.06 114.68 L563.56 115.27 L564.06 115.94 L564.56 116.70 L565.06 117.54 L565.56 118.46 L566.06 119.45 L566.56 120.52 L567.06 121.67 L567.56 122.88 L568.06 124.16 L568.56 125.51 L569.06 126.92 L569.56 128.38 L570.06 129.90 L570.56 131.47 L571.06 133.08 L571.56 134.74 L572.06 136.44 L572.56 138.17 L573.06 139.94 L573.56 141.73 L574.06 143.54 L574.56 145.38 L575.06 147.22 L575.56 149.08 L576.06 150.95 L576.56 152.81 L577.06 154.67 L577.56 156.52 L578.06 158.37 L578.56 160.19 L579.06 162.00 L579.56 163.78 L580.06 165.53 L580.56 167.25 L581.06 168.93 L581.56 170.57 L582.06 172.17 L582.56 173.71 L583.06 175.21 L583.56 176.65 L584.06 178.03 L584.56 179.35 L585.06 180.60 L585.56 181.78 L586.06 182.89 L586.56 183.93 L587.06 184.89 L587.56 185.78 L588.06 186.58 L588.56 187.30 L589.06 187.94 L589.55 188.49 L590.05 188.96 L590.55 189.33 L591.05 189.62 L591.55 189.82 L592.05 189.92 L592.55 189.94 L593.05 189.87 L593.55 189.71 L594.05 189.47 L594.55 189.14 L595.05 188.72 L595.55 188.22 L596.05 187.64 L596.55 186.97 L597.05 186.22 L597.55 185.40 L598.05 184.49 L598.55 183.51 L599.05 182.46 L599.55 181.34 L600.05 180.16 L600.55 178.90 L601.05 177.59 L601.55 176.21 L602.05 174.78 L602.55 173.30 L603.05 171.77 L603.55 170.19 L604.05 168.57 L604.55 166.91 L605.05 165.22 L605.55 163.49 L606.05 161.74 L606.55 159.97 L607.05 158.18 L607.55 156.37 L608.05 154.55 L608.55 152.73 L609.05 150.90 L609.55 149.08 L610.05 147.26 L610.55 145.46 L611.05 143.66 L611.55 141.89 L612.05 140.14 L612.55 138.42 L613.05 136.72 L613.55 135.06 L614.05 133.44 L614.55 131.87 L615.05 130.33 L615.55 128.85 L616.05 127.42 L616.55 126.04 L617.05 124.73 L617.55 123.48 L618.05 122.29 L618.55 121.17 L619.05 120.11 L619.55 119.14 L620.05 118.23 L620.55 117.41 L621.05 116.66 L621.55 115.99 L622.04 115.41 L622.54 114.91 L623.04 114.49 L623.54 114.16 L624.04 113.91 L624.54 113.76 L625.04 113.68 L625.54 113.70 L626.04 113.81 L626.54 114.00 L627.04 114.28 L627.54 114.66 L628.04 115.11 L628.54 115.66 L629.04 116.28 L629.54 117.00 L630.04 117.79 L630.54 118.66 L631.04 119.61 L631.54 120.63 L632.04 121.73 L632.54 122.90 L633.04 124.13 L633.54 125.43 L634.04 126.80 L634.54 128.22 L635.04 129.69 L635.54 131.22 L636.04 132.79 L636.54 134.41 L637.04 136.07 L637.54 137.76 L638.04 139.49 L638.54 141.25 L639.04 143.03 L639.54 144.83 L640.04 146.65 L640.54 148.48 L641.04 150.31 L641.54 152.15 L642.04 153.99 L642.54 155.82 L643.04 157.65 L643.54 159.46 L644.04 161.25 L644.54 163.02 L645.04 164.76 L645.54 166.47 L646.04 168.14 L646.54 169.78 L647.04 171.37 L647.54 172.92 L648.04 174.42 L648.54 175.86 L649.04 177.25 L649.54 178.58 L650.04 179.84 L650.54 181.04 L651.04 182.17 L651.54 183.23 L652.04 184.21 L652.54 185.12 L653.04 185.95 L653.54 186.69 L654.04 187.36 L654.53 187.94 L655.03 188.44 L655.53 188.85 L656.03 189.17 L656.53 189.40 L657.03 189.55 L657.53 189.60 L658.03 189.57 L658.53 189.45 L659.03 189.25 L659.53 188.95 L660.03 188.58 L660.53 188.11 L661.03 187.57 L661.53 186.94 L662.03 186.23 L662.53 185.44 L663.03 184.57 L663.53 183.63 L664.03 182.62 L664.53 181.53 L665.03 180.37 L665.53 179.15 L666.03 177.87 L666.53 176.52 L667.03 175.12 L667.53 173.67 L668.03 172.16 L668.53 170.61 L669.03 169.02 L669.53 167.38 L670.03 165.71 L670.53 164.01 L671.03 162.28 L671.53 160.52 L672.03 158.75 L672.53 156.95 L673.03 155.15 L673.53 153.34 L674.03 151.53 L674.53 149.71 L675.03 147.90 L675.53 146.10 L676.03 144.32 L676.53 142.55 L677.03 140.80 L677.53 139.08 L678.03 137.38 L678.53 135.72 L679.03 134.10 L679.53 132.52 L680.03 130.98 L680.53 129.49 L681.03 128.05 L681.53 126.67 L682.03 125.34 L682.53 124.08 L683.03 122.88 L683.53 121.75 L684.03 120.68 L684.53 119.69 L685.03 118.77 L685.53 117.93 L686.03 117.16 L686.53 116.48 L687.03 115.88 L687.52 115.36 L688.02 114.92 L688.52 114.57 L689.02 114.31 L689.52 114.13 L690.02 114.04 L690.52 114.03 L691.02 114.12 L691.52 114.29 L692.02 114.55 L692.52 114.90 L693.02 115.33 L693.52 115.86 L694.02 116.46 L694.52 117.15 L695.02 117.92 L695.52 118.77 L696.02 119.70 L696.52 120.70 L697.02 121.78 L697.52 122.93 L698.02 124.14 L698.52 125.42 L699.02 126.76 L699.52 128.17 L700.02 129.62 L700.52 131.13 L701.02 132.69 L701.52 134.29 L702.02 135.93 L702.52 137.61 L703.02 139.32 L703.52 141.07 L704.02 142.83 L704.52 144.62 L705.02 146.42 L705.52 148.24 L706.02 150.07 L706.52 151.89 L707.02 153.72 L707.52 155.55 L708.02 157.36 L708.52 159.16 L709.02 160.94 L709.52 162.70 L710.02 164.44 L710.52 166.14 L711.02 167.81 L711.52 169.44 L712.02 171.03 L712.52 172.58 L713.02 174.07 L713.52 175.51 L714.02 176.90 L714.52 178.22 L715.02 179.48 L715.52 180.68 L716.02 181.81 L716.52 182.87 L717.02 183.85 L717.52 184.76 L718.02 185.58 L718.52 186.33 L719.02 187.00 L719.52 187.58 L720.01 188.08 L720.51 188.49 L721.01 188.82 L721.51 189.05 L722.01 189.20 L722.51 189.26 L723.01 189.23 L723.51 189.12 L724.01 188.92 L724.51 188.64 L725.01 188.27 L725.51 187.82 L726.01 187.29 L726.51 186.68 L727.01 185.99 L727.51 185.22 L728.01 184.37 L728.51 183.45 L729.01 182.46 L729.51 181.40 L730.01 180.27 L730.51 179.07 L731.01 177.82 L731.51 176.50 L732.01 175.13 L732.51 173.71 L733.01 172.23 L733.51 170.71 L734.01 169.15 L734.51 167.54 L735.01 165.90 L735.51 164.23 L736.01 162.53 L736.51 160.81 L737.01 159.06 L737.51 157.30 L738.01 155.53 L738.51 153.75 L739.01 151.96 L739.51 150.17 L740.01 148.39 L740.51 146.61 L741.01 144.85 L741.51 143.10 L742.01 141.37 L742.51 139.67 L743.01 137.99 L743.51 136.35 L744.01 134.74 L744.51 133.17 L745.01 131.64 L745.51 130.16 L746.01 128.73 L746.51 127.34 L747.01 126.02 L747.51 124.75 L748.01 123.55 L748.51 122.41 L749.01 121.34 L749.51 120.33 L750.01 119.40 L750.51 118.54 L751.01 117.76 L751.51 117.06 L752.01 116.43 L752.50 115.89 L753.00 115.42 L753.50 115.04 L754.00 114.75 L754.50 114.53 L755.00 114.41 L755.50 114.36 L756.00 114.41 L756.50 114.54 L757.00 114.76 L757.50 115.06 L758.00 115.45 L758.50 115.92 L759.00 116.48 L759.50 117.12 L760.00 117.84 L760.50 118.64 L761.00 119.51 L761.50 120.46 L762.00 121.49 L762.50 122.58 L763.00 123.74 L763.50 124.97 L764.00 126.26 L764.50 127.61 L765.00 129.01 L765.50 130.47 L766.00 131.97 L766.50 133.53 L767.00 135.12 L767.50 136.76 L768.00 138.42 L768.50 140.12" stroke="#000" stroke-width="4.1"/>
<path d="M117.20 93.94 L117.70 91.92 L118.20 90.05 L118.70 88.31 L119.20 86.72 L119.70 85.28 L120.20 84.00 L120.70 82.87 L121.20 81.90 L121.70 81.09 L122.20 80.44 L122.70 79.96 L123.20 79.64 L123.70 79.49 L124.20 79.51 L124.70 79.69 L125.20 80.04 L125.70 80.55 L126.20 81.23 L126.70 82.07 L127.20 83.07 L127.70 84.23 L128.20 85.55 L128.70 87.02 L129.20 88.63 L129.70 90.40 L130.20 92.30 L130.70 94.34 L131.20 96.51 L131.70 98.81 L132.20 101.23 L132.70 103.77 L133.20 106.42 L133.69 109.17 L134.19 112.02 L134.69 114.96 L135.19 117.98 L135.69 121.09 L136.19 124.26 L136.69 127.49 L137.19 130.78 L137.69 134.12 L138.19 137.50 L138.69 140.91 L139.19 144.34 L139.69 147.79 L140.19 151.25 L140.69 154.71 L141.19 158.16 L141.69 161.59 L142.19 165.00 L142.69 168.38 L143.19 171.72 L143.69 175.01 L144.19 178.25 L144.69 181.43 L145.19 184.53 L145.69 187.56 L146.19 190.50 L146.69 193.35 L147.19 196.11 L147.69 198.76 L148.19 201.30 L148.69 203.72 L149.19 206.03 L149.69 208.20 L150.19 210.25 L150.69 212.15 L151.19 213.92 L151.69 215.54 L152.19 217.01 L152.69 218.33 L153.19 219.49 L153.69 220.50 L154.19 221.35 L154.69 222.03 L155.19 222.55 L155.69 222.90 L156.19 223.09 L156.69 223.11 L157.19 222.96 L157.69 222.65 L158.19 222.17 L158.69 221.53 L159.19 220.73 L159.69 219.76 L160.19 218.63 L160.69 217.35 L161.19 215.92 L161.69 214.33 L162.19 212.60 L162.69 210.73 L163.19 208.72 L163.69 206.58 L164.19 204.31 L164.69 201.91 L165.19 199.40 L165.69 196.77 L166.18 194.05 L166.68 191.22 L167.18 188.30 L167.68 185.29 L168.18 182.20 L168.68 179.05 L169.18 175.82 L169.68 172.54 L170.18 169.22 L170.68 165.85 L171.18 162.44 L171.68 159.01 L172.18 155.57 L172.68 152.11 L173.18 148.65 L173.68 145.20 L174.18 141.76 L174.68 138.34 L175.18 134.96 L175.68 131.61 L176.18 128.31 L176.68 125.06 L177.18 121.87 L177.68 118.75 L178.18 115.70 L178.68 112.74 L179.18 109.87 L179.68 107.09 L180.18 104.42 L180.68 101.85 L181.18 99.40 L181.68 97.07 L182.18 94.87 L182.68 92.79 L183.18 90.85 L183.68 89.06 L184.18 87.40 L184.68 85.90 L185.18 84.55 L185.68 83.35 L186.18 82.31 L186.68 81.43 L187.18 80.71 L187.68 80.15 L188.18 79.76 L188.68 79.54 L189.18 79.48 L189.68 79.59 L190.18 79.87 L190.68 80.31 L191.18 80.91 L191.68 81.68 L192.18 82.61 L192.68 83.70 L193.18 84.95 L193.68 86.35 L194.18 87.90 L194.68 89.60 L195.18 91.44 L195.68 93.42 L196.18 95.54 L196.68 97.78 L197.18 100.15 L197.68 102.64 L198.18 105.24 L198.67 107.95 L199.17 110.75 L199.67 113.65 L200.17 116.64 L200.67 119.71 L201.17 122.85 L201.67 126.06 L202.17 129.33 L202.67 132.65 L203.17 136.01 L203.67 139.41 L204.17 142.83 L204.67 146.27 L205.17 149.73 L205.67 153.19 L206.17 156.64 L206.67 160.09 L207.17 163.51 L207.67 166.90 L208.17 170.26 L208.67 173.57 L209.17 176.83 L209.67 180.04 L210.17 183.17 L210.67 186.23 L211.17 189.22 L211.67 192.11 L212.17 194.91 L212.67 197.60 L213.17 200.19 L213.67 202.67 L214.17 205.03 L214.67 207.26 L215.17 209.36 L215.67 211.33 L216.17 213.16 L216.67 214.84 L217.17 216.38 L217.67 217.77 L218.17 219.00 L218.67 220.08 L219.17 220.99 L219.67 221.75 L220.17 222.34 L220.67 222.77 L221.17 223.03 L221.67 223.12 L222.17 223.05 L222.67 222.81 L223.17 222.40 L223.67 221.83 L224.17 221.10 L224.67 220.20 L225.17 219.15 L225.67 217.94 L226.17 216.57 L226.67 215.05 L227.17 213.38 L227.67 211.57 L228.17 209.62 L228.67 207.54 L229.17 205.32 L229.67 202.98 L230.17 200.52 L230.67 197.94 L231.17 195.26 L231.66 192.47 L232.16 189.59 L232.66 186.62 L233.16 183.57 L233.66 180.44 L234.16 177.25 L234.66 173.99 L235.16 170.69 L235.66 167.33 L236.16 163.94 L236.66 160.53 L237.16 157.09 L237.66 153.63 L238.16 150.17 L238.66 146.72 L239.16 143.27 L239.66 139.84 L240.16 136.44 L240.66 133.08 L241.16 129.75 L241.66 126.48 L242.16 123.26 L242.66 120.11 L243.16 117.03 L243.66 114.03 L244.16 111.12 L244.66 108.30 L245.16 105.58 L245.66 102.97 L246.16 100.46 L246.66 98.08 L247.16 95.82 L247.66 93.69 L248.16 91.69 L248.66 89.83 L249.16 88.11 L249.66 86.54 L250.16 85.12 L250.66 83.86 L251.16 82.75 L251.66 81.79 L252.16 81.00 L252.66 80.38 L253.16 79.91 L253.66 79.62 L254.16 79.49 L254.66 79.53 L255.16 79.76 L255.66 80.17 L256.16 80.77 L256.66 81.56 L257.16 82.52 L257.66 83.67 L258.16 84.99 L258.66 86.49 L259.16 88.15 L259.66 89.98 L260.16 91.97 L260.66 94.11 L261.16 96.40 L261.66 98.83 L262.16 101.40 L262.66 104.09 L263.16 106.91 L263.66 109.84 L264.15 112.88 L264.65 116.01 L265.15 119.23 L265.65 122.53 L266.15 125.91 L266.65 129.34 L267.15 132.83 L267.65 136.36 L268.15 139.93 L268.65 143.52 L269.15 147.12 L269.65 150.73 L270.15 154.34 L270.65 157.93 L271.15 161.49 L271.65 165.03 L272.15 168.51 L272.65 171.95 L273.15 175.32 L273.65 178.62 L274.15 181.84 L274.65 184.98 L275.15 188.01 L275.65 190.94 L276.15 193.75 L276.65 196.45 L277.15 199.01 L277.65 201.44 L278.15 203.73 L278.65 205.87 L279.15 207.86 L279.65 209.68 L280.15 211.34 L280.65 212.84 L281.15 214.16 L281.65 215.30 L282.15 216.27 L282.65 217.05 L283.15 217.65 L283.65 218.06 L284.15 218.29 L284.65 218.33 L285.15 218.22 L285.65 217.97 L286.15 217.59 L286.65 217.08 L287.15 216.43 L287.65 215.64 L288.15 214.73 L288.65 213.69 L289.15 212.52 L289.65 211.23 L290.15 209.82 L290.65 208.28 L291.15 206.64 L291.65 204.88 L292.15 203.01 L292.65 201.05 L293.15 198.98 L293.65 196.82 L294.15 194.56 L294.65 192.22 L295.15 189.81 L295.65 187.31 L296.15 184.75 L296.64 182.12 L297.14 179.44 L297.64 176.70 L298.14 173.92 L298.64 171.09 L299.14 168.23 L299.64 165.34 L300.14 162.43 L300.64 159.51 L301.14 156.57 L301.64 153.63 L302.14 150.69 L302.64 147.77 L303.14 144.86 L303.64 141.97 L304.14 139.11 L304.64 136.28 L305.14 133.50 L305.64 130.76 L306.14 128.07 L306.64 125.44 L307.14 122.88 L307.64 120.38 L308.14 117.96 L308.64 115.62 L309.14 113.37 L309.64 111.20 L310.14 109.13 L310.64 107.16 L311.14 105.29 L311.64 103.53 L312.14 101.88 L312.64 100.35 L313.14 98.93 L313.64 97.64 L314.14 96.46 L314.64 95.42 L315.14 94.50 L315.64 93.72 L316.14 93.06 L316.64 92.54 L317.14 92.16 L317.64 91.91 L318.14 91.80 L318.64 91.82 L319.14 91.99 L319.64 92.31 L320.14 92.76 L320.64 93.36 L321.14 94.10 L321.64 94.97 L322.14 95.98 L322.64 97.13 L323.14 98.40 L323.64 99.81 L324.14 101.34 L324.64 102.99 L325.14 104.76 L325.64 106.64 L326.14 108.63 L326.64 110.73 L327.14 112.92 L327.64 115.21 L328.14 117.59 L328.64 120.04 L329.13 122.58 L329.63 125.19 L330.13 127.86 L330.63 130.59 L331.13 133.37 L331.63 136.20 L332.13 139.07 L332.63 141.97 L333.13 144.90 L333.63 147.84 L334.13 150.79 L334.63 153.75 L335.13 156.71 L335.63 159.66 L336.13 162.59 L336.63 165.49 L337.13 168.37 L337.63 171.21 L338.13 174.01 L338.63 176.75 L339.13 179.44 L339.63 182.07 L340.13 184.62 L340.63 187.10 L341.13 189.50 L341.63 191.81 L342.13 194.03 L342.63 196.15 L343.13 198.17 L343.63 200.08 L344.13 201.88 L344.63 203.57 L345.13 205.13 L345.63 206.57 L346.13 207.88 L346.63 209.06 L347.13 210.11 L347.63 211.02 L348.13 211.79 L348.63 212.43 L349.13 212.92 L349.63 213.27 L350.13 213.48 L350.63 213.54 L351.13 213.47 L351.63 213.25 L352.13 212.89 L352.63 212.39 L353.13 211.76 L353.63 210.99 L354.13 210.08 L354.63 209.04 L355.13 207.87 L355.63 206.58 L356.13 205.16 L356.63 203.62 L357.13 201.96 L357.63 200.19 L358.13 198.31 L358.63 196.32 L359.13 194.24 L359.63 192.05 L360.13 189.78 L360.63 187.42 L361.13 184.99 L361.62 182.47 L362.12 179.89 L362.62 177.25 L363.12 174.55 L363.62 171.80 L364.12 169.01 L364.62 166.18 L365.12 163.32 L365.62 160.44 L366.12 157.54 L366.62 154.62 L367.12 151.71 L367.62 148.80 L368.12 145.89 L368.62 143.01 L369.12 140.14 L369.62 137.31 L370.12 134.51 L370.62 131.76 L371.12 129.05 L371.62 126.41 L372.12 123.82 L372.62 121.30 L373.12 118.85 L373.62 116.49 L374.12 114.20 L374.62 112.01 L375.12 109.91 L375.62 107.92 L376.12 106.03 L376.62 104.24 L377.12 102.57 L377.62 101.02 L378.12 99.59 L378.62 98.28 L379.12 97.10 L379.62 96.04 L380.12 95.12 L380.62 94.34 L381.12 93.69 L381.62 93.18 L382.12 92.80 L382.62 92.57 L383.12 92.48 L383.62 92.52 L384.12 92.71 L384.62 93.03 L385.12 93.49 L385.62 94.08 L386.12 94.80 L386.62 95.66 L387.12 96.65 L387.62 97.77 L388.12 99.01 L388.62 100.37 L389.12 101.86 L389.62 103.46 L390.12 105.17 L390.62 106.99 L391.12 108.92 L391.62 110.94 L392.12 113.06 L392.62 115.27 L393.12 117.57 L393.62 119.94 L394.11 122.40 L394.61 124.91 L395.11 127.50 L395.61 130.14 L396.11 132.83 L396.61 135.57 L397.11 138.34 L397.61 141.15 L398.11 143.98 L398.61 146.83 L399.11 149.70 L399.61 152.57 L400.11 155.45 L400.61 158.31 L401.11 161.16 L401.61 164.00 L402.11 166.80 L402.61 169.58 L403.11 172.31 L403.61 175.00 L404.11 177.64 L404.61 180.21 L405.11 182.73 L405.61 185.18 L406.11 187.55 L406.61 189.84 L407.11 192.05 L407.61 194.16 L408.11 196.18 L408.61 198.10 L409.11 199.92 L409.61 201.62 L410.11 203.22 L410.61 204.70 L411.11 206.05 L411.61 207.29 L412.11 208.40 L412.61 209.38 L413.11 210.23 L413.61 210.95 L414.11 211.54 L414.61 211.99 L415.11 212.30 L415.61 212.48 L416.11 212.51 L416.61 212.41 L417.11 212.17 L417.61 211.78 L418.11 211.25 L418.61 210.58 L419.11 209.77 L419.61 208.83 L420.11 207.75 L420.61 206.54 L421.11 205.20 L421.61 203.74 L422.11 202.15 L422.61 200.45 L423.11 198.63 L423.61 196.70 L424.11 194.66 L424.61 192.52 L425.11 190.29 L425.61 187.97 L426.11 185.56 L426.60 183.07 L427.10 180.51 L427.60 177.88 L428.10 175.19 L428.60 172.45 L429.10 169.66 L429.60 166.82 L430.10 163.95 L430.60 161.05 L431.10 158.13 L431.60 155.20 L432.10 152.26 L432.60 149.32 L433.10 146.38 L433.60 143.46 L434.10 140.56 L434.60 137.68 L435.10 134.84 L435.60 132.04 L436.10 129.28 L436.60 126.58 L437.10 123.94 L437.60 121.37 L438.10 118.87 L438.60 116.44 L439.10 114.11 L439.60 111.86 L440.10 109.70 L440.60 107.64 L441.10 105.69 L441.60 103.85 L442.10 102.13 L442.60 100.52 L443.10 99.03 L443.60 97.67 L444.10 96.43 L444.60 95.33 L445.10 94.36 L445.60 93.53 L446.10 92.83 L446.60 92.28 L447.10 91.86 L447.60 91.59 L448.10 91.46 L448.60 91.48 L449.10 91.63 L449.60 91.92 L450.10 92.36 L450.60 92.93 L451.10 93.64 L451.60 94.49 L452.10 95.47 L452.60 96.58 L453.10 97.82 L453.60 99.19 L454.10 100.68 L454.60 102.29 L455.10 104.01 L455.60 105.85 L456.10 107.79 L456.60 109.84 L457.10 111.98 L457.60 114.22 L458.10 116.55 L458.60 118.95 L459.10 121.44 L459.59 124.00 L460.09 126.62 L460.59 129.30 L461.09 132.04 L461.59 134.82 L462.09 137.64 L462.59 140.49 L463.09 143.37 L463.59 146.28 L464.09 149.19 L464.59 152.12 L465.09 155.04 L465.59 157.96 L466.09 160.86 L466.59 163.74 L467.09 166.60 L467.59 169.42 L468.09 172.20 L468.59 174.94 L469.09 177.62 L469.59 180.24 L470.09 182.80 L470.59 185.29 L471.09 187.70 L471.59 190.03 L472.09 192.27 L472.59 194.42 L473.09 196.47 L473.59 198.41 L474.09 200.25 L474.59 201.98 L475.09 203.59 L475.59 205.08 L476.09 206.45 L476.59 207.70 L477.09 208.81 L477.59 209.80 L478.09 210.65 L478.59 211.36 L479.09 211.94 L479.59 212.38 L480.09 212.67 L480.59 212.83 L481.09 212.85 L481.59 212.73 L482.09 212.46 L482.59 212.06 L483.09 211.52 L483.59 210.85 L484.09 210.03 L484.59 209.09 L485.09 208.01 L485.59 206.81 L486.09 205.48 L486.59 204.02 L487.09 202.45 L487.59 200.76 L488.09 198.96 L488.59 197.05 L489.09 195.03 L489.59 192.92 L490.09 190.72 L490.59 188.42 L491.09 186.04 L491.59 183.59 L492.08 181.06 L492.58 178.47 L493.08 175.81 L493.58 173.11 L494.08 170.35 L494.58 167.55 L495.08 164.72 L495.58 161.86 L496.08 158.98 L496.58 156.08 L497.08 153.18 L497.58 150.27 L498.08 147.37 L498.58 144.48 L499.08 141.61 L499.58 138.76 L500.08 135.94 L500.58 133.17 L501.08 130.44 L501.58 127.76 L502.08 125.14 L502.58 122.58 L503.08 120.09 L503.58 117.67 L504.08 115.34 L504.58 113.09 L505.08 110.94 L505.58 108.88 L506.08 106.92 L506.58 105.06 L507.08 103.32 L507.58 101.69 L508.08 100.18 L508.58 98.79 L509.08 97.53 L509.58 96.39 L510.08 95.38 L510.58 94.51 L511.08 93.77 L511.58 93.17 L512.08 92.70 L512.58 92.37 L513.08 92.18 L513.58 92.14 L514.08 92.23 L514.58 92.46 L515.08 92.83 L515.58 93.35 L516.08 94.00 L516.58 94.79 L517.08 95.71 L517.58 96.76 L518.08 97.95 L518.58 99.26 L519.08 100.69 L519.58 102.25 L520.08 103.93 L520.58 105.71 L521.08 107.61 L521.58 109.61 L522.08 111.71 L522.58 113.91 L523.08 116.20 L523.58 118.57 L524.08 121.02 L524.57 123.54 L525.07 126.14 L525.57 128.79 L526.07 131.50 L526.57 134.26 L527.07 137.06 L527.57 139.89 L528.07 142.76 L528.57 145.65 L529.07 148.55 L529.57 151.47 L530.07 154.38 L530.57 157.29 L531.07 160.20 L531.57 163.08 L532.07 165.94 L532.57 168.76 L533.07 171.55 L533.57 174.30 L534.07 176.99 L534.57 179.62 L535.07 182.20 L535.57 184.70 L536.07 187.13 L536.57 189.48 L537.07 191.74 L537.57 193.91 L538.07 195.98 L538.57 197.95 L539.07 199.82 L539.57 201.57 L540.07 203.21 L540.57 204.73 L541.07 206.13 L541.57 207.41 L542.07 208.56 L542.57 209.57 L543.07 210.45 L543.57 211.20 L544.07 211.81 L544.57 212.28 L545.07 212.62 L545.57 212.81 L546.07 212.86 L546.57 212.77 L547.07 212.54 L547.57 212.17 L548.07 211.66 L548.57 211.02 L549.07 210.23 L549.57 209.32 L550.07 208.27 L550.57 207.09 L551.07 205.79 L551.57 204.36 L552.07 202.81 L552.57 201.14 L553.07 199.36 L553.57 197.47 L554.07 195.48 L554.57 193.38 L555.07 191.19 L555.57 188.91 L556.07 186.55 L556.57 184.10 L557.06 181.59 L557.56 179.00 L558.06 176.35 L558.56 173.65 L559.06 170.90 L559.56 168.10 L560.06 165.27 L560.56 162.41 L561.06 159.52 L561.56 156.62 L562.06 153.71 L562.56 150.79 L563.06 147.88 L563.56 144.98 L564.06 142.09 L564.56 139.23 L565.06 136.40 L565.56 133.61 L566.06 130.86 L566.56 128.16 L567.06 125.51 L567.56 122.93 L568.06 120.42 L568.56 117.98 L569.06 115.62 L569.56 113.34 L570.06 111.16 L570.56 109.07 L571.06 107.08 L571.56 105.19 L572.06 103.42 L572.56 101.76 L573.06 100.22 L573.56 98.79 L574.06 97.49 L574.56 96.32 L575.06 95.28 L575.56 94.37 L576.06 93.60 L576.56 92.96 L577.06 92.46 L577.56 92.10 L578.06 91.87 L578.56 91.79 L579.06 91.85 L579.56 92.05 L580.06 92.38 L580.56 92.86 L581.06 93.47 L581.56 94.22 L582.06 95.10 L582.56 96.11 L583.06 97.26 L583.56 98.53 L584.06 99.92 L584.56 101.44 L585.06 103.07 L585.56 104.81 L586.06 106.67 L586.56 108.63 L587.06 110.69 L587.56 112.85 L588.06 115.10 L588.56 117.43 L589.06 119.85 L589.55 122.34 L590.05 124.89 L590.55 127.52 L591.05 130.20 L591.55 132.93 L592.05 135.70 L592.55 138.51 L593.05 141.36 L593.55 144.23 L594.05 147.12 L594.55 150.02 L595.05 152.93 L595.55 155.83 L596.05 158.73 L596.55 161.61 L597.05 164.47 L597.55 167.30 L598.05 170.10 L598.55 172.86 L599.05 175.57 L599.55 178.23 L600.05 180.82 L600.55 183.35 L601.05 185.81 L601.55 188.19 L602.05 190.49 L602.55 192.71 L603.05 194.82 L603.55 196.84 L604.05 198.76 L604.55 200.57 L605.05 202.27 L605.55 203.86 L606.05 205.32 L606.55 206.66 L607.05 207.88 L607.55 208.97 L608.05 209.93 L608.55 210.76 L609.05 211.45 L609.55 212.01 L610.05 212.42 L610.55 212.70 L611.05 212.84 L611.55 212.84 L612.05 212.71 L612.55 212.43 L613.05 212.02 L613.55 211.47 L614.05 210.79 L614.55 209.97 L615.05 209.02 L615.55 207.95 L616.05 206.74 L616.55 205.42 L617.05 203.97 L617.55 202.40 L618.05 200.72 L618.55 198.93 L619.05 197.04 L619.55 195.04 L620.05 192.95 L620.55 190.76 L621.05 188.49 L621.55 186.13 L622.04 183.70 L622.54 181.20 L623.04 178.64 L623.54 176.01 L624.04 173.33 L624.54 170.60 L625.04 167.84 L625.54 165.04 L626.04 162.21 L626.54 159.36 L627.04 156.50 L627.54 153.62 L628.04 150.75 L628.54 147.88 L629.04 145.03 L629.54 142.19 L630.04 139.37 L630.54 136.59 L631.04 133.85 L631.54 131.15 L632.04 128.50 L632.54 125.91 L633.04 123.38 L633.54 120.91 L634.04 118.53 L634.54 116.22 L635.04 113.99 L635.54 111.86 L636.04 109.82 L636.54 107.88 L637.04 106.05 L637.54 104.32 L638.04 102.71 L638.54 101.21 L639.04 99.83 L639.54 98.57 L640.04 97.44 L640.54 96.44 L641.04 95.57 L641.54 94.83 L642.04 94.22 L642.54 93.75 L643.04 93.42 L643.54 93.22 L644.04 93.16 L644.54 93.24 L645.04 93.46 L645.54 93.82 L646.04 94.32 L646.54 94.95 L647.04 95.72 L647.54 96.62 L648.04 97.66 L648.54 98.82 L649.04 100.11 L649.54 101.53 L650.04 103.06 L650.54 104.71 L651.04 106.48 L651.54 108.35 L652.04 110.33 L652.54 112.40 L653.04 114.57 L653.54 116.83 L654.04 119.18 L654.53 121.60 L655.03 124.10 L655.53 126.67 L656.03 129.29 L656.53 131.97 L657.03 134.70 L657.53 137.48 L658.03 140.29 L658.53 143.13 L659.03 145.99 L659.53 148.87 L660.03 151.76 L660.53 154.65 L661.03 157.54 L661.53 160.41 L662.03 163.27 L662.53 166.11 L663.03 168.91 L663.53 171.68 L664.03 174.41 L664.53 177.08 L665.03 179.70 L665.53 182.26 L666.03 184.74 L666.53 187.16 L667.03 189.49 L667.53 191.74 L668.03 193.90 L668.53 195.96 L669.03 197.93 L669.53 199.78 L670.03 201.53 L670.53 203.17 L671.03 204.69 L671.53 206.08 L672.03 207.36 L672.53 208.51 L673.03 209.52 L673.53 210.41 L674.03 211.16 L674.53 211.78 L675.03 212.26 L675.53 212.60 L676.03 212.80 L676.53 212.86 L677.03 212.78 L677.53 212.56 L678.03 212.21 L678.53 211.71 L679.03 211.08 L679.53 210.32 L680.03 209.41 L680.53 208.38 L681.03 207.22 L681.53 205.93 L682.03 204.52 L682.53 202.99 L683.03 201.34 L683.53 199.58 L684.03 197.71 L684.53 195.73 L685.03 193.66 L685.53 191.49 L686.03 189.23 L686.53 186.89 L687.03 184.47 L687.52 181.97 L688.02 179.41 L688.52 176.78 L689.02 174.10 L689.52 171.37 L690.02 168.60 L690.52 165.79 L691.02 162.95 L691.52 160.09 L692.02 157.21 L692.52 154.32 L693.02 151.43 L693.52 148.54 L694.02 145.66 L694.52 142.80 L695.02 139.97 L695.52 137.16 L696.02 134.39 L696.52 131.67 L697.02 128.99 L697.52 126.37 L698.02 123.81 L698.52 121.33 L699.02 118.91 L699.52 116.57 L700.02 114.32 L700.52 112.16 L701.02 110.10 L701.52 108.13 L702.02 106.27 L702.52 104.52 L703.02 102.88 L703.52 101.36 L704.02 99.96 L704.52 98.69 L705.02 97.54 L705.52 96.52 L706.02 95.63 L706.52 94.87 L707.02 94.25 L707.52 93.77 L708.02 93.43 L708.52 93.22 L709.02 93.16 L709.52 93.23 L710.02 93.45 L710.52 93.80 L711.02 94.29 L711.52 94.91 L712.02 95.67 L712.52 96.57 L713.02 97.59 L713.52 98.74 L714.02 100.02 L714.52 101.42 L715.02 102.94 L715.52 104.58 L716.02 106.33 L716.52 108.19 L717.02 110.15 L717.52 112.21 L718.02 114.36 L718.52 116.61 L719.02 118.94 L719.52 121.34 L720.01 123.82 L720.51 126.37 L721.01 128.98 L721.51 131.64 L722.01 134.36 L722.51 137.11 L723.01 139.91 L723.51 142.73 L724.01 145.57 L724.51 148.44 L725.01 151.31 L725.51 154.18 L726.01 157.05 L726.51 159.91 L727.01 162.76 L727.51 165.58 L728.01 168.37 L728.51 171.12 L729.01 173.84 L729.51 176.50 L730.01 179.10 L730.51 181.65 L731.01 184.12 L731.51 186.53 L732.01 188.85 L732.51 191.09 L733.01 193.24 L733.51 195.30 L734.01 197.25 L734.51 199.10 L735.01 200.85 L735.51 202.48 L736.01 203.99 L736.51 205.39 L737.01 206.66 L737.51 207.80 L738.01 208.82 L738.51 209.71 L739.01 210.46 L739.51 211.08 L740.01 211.56 L740.51 211.90 L741.01 212.11 L741.51 212.18 L742.01 212.10 L742.51 211.89 L743.01 211.55 L743.51 211.06 L744.01 210.44 L744.51 209.68 L745.01 208.79 L745.51 207.77 L746.01 206.62 L746.51 205.34 L747.01 203.94 L747.51 202.42 L748.01 200.79 L748.51 199.04 L749.01 197.19 L749.51 195.23 L750.01 193.17 L750.51 191.02 L751.01 188.77 L751.51 186.45 L752.01 184.04 L752.50 181.56 L753.00 179.02 L753.50 176.41 L754.00 173.75 L754.50 171.03 L755.00 168.28 L755.50 165.49 L756.00 162.66 L756.50 159.82 L757.00 156.96 L757.50 154.09 L758.00 151.21 L758.50 148.34 L759.00 145.48 L759.50 142.63 L760.00 139.81 L760.50 137.02 L761.00 134.27 L761.50 131.55 L762.00 128.89 L762.50 126.29 L763.00 123.74 L763.50 121.26 L764.00 118.86 L764.50 116.53 L765.00 114.29 L765.50 112.14 L766.00 110.08 L766.50 108.12 L767.00 106.27 L767.50 104.52 L768.00 102.89 L768.50 101.37" stroke="#000" stroke-width="7.5" stroke-dasharray="7.1 7" stroke-dashoffset="0"/>
</g>
<g stroke="#262626" fill="none">
<rect x="117.20" y="353.20" width="649.10" height="245.20" stroke-width="2.6"/>
<line x1="279.47" y1="353.20" x2="279.47" y2="360.60" stroke-width="2.4"/>
<line x1="279.47" y1="598.40" x2="279.47" y2="591.00" stroke-width="2.4"/>
<line x1="441.75" y1="353.20" x2="441.75" y2="360.60" stroke-width="2.4"/>
<line x1="441.75" y1="598.40" x2="441.75" y2="591.00" stroke-width="2.4"/>
<line x1="604.02" y1="353.20" x2="604.02" y2="360.60" stroke-width="2.4"/>
<line x1="604.02" y1="598.40" x2="604.02" y2="591.00" stroke-width="2.4"/>
<line x1="117.20" y1="380.50" x2="124.60" y2="380.50" stroke-width="2.4"/>
<line x1="766.30" y1="380.50" x2="758.90" y2="380.50" stroke-width="2.4"/>
<line x1="117.20" y1="489.50" x2="124.60" y2="489.50" stroke-width="2.4"/>
<line x1="766.30" y1="489.50" x2="758.90" y2="489.50" stroke-width="2.4"/>
</g>
<g clip-path="url(#cb)" fill="none" stroke-linejoin="round">
<path d="M117.20 449.16 L117.70 451.01 L118.20 452.93 L118.70 454.95 L119.20 457.04 L119.70 459.20 L120.20 461.43 L120.70 463.73 L121.20 466.09 L121.70 468.49 L122.20 470.95 L122.70 473.44 L123.20 475.97 L123.70 478.53 L124.20 481.11 L124.70 483.71 L125.20 486.32 L125.70 488.94 L126.20 491.55 L126.70 494.16 L127.20 496.76 L127.70 499.33 L128.20 501.88 L128.70 504.39 L129.20 506.87 L129.70 509.31 L130.20 511.69 L130.70 514.03 L131.20 516.30 L131.70 518.50 L132.20 520.64 L132.70 522.70 L133.20 524.68 L133.70 526.57 L134.20 528.38 L134.70 530.09 L135.20 531.70 L135.70 533.21 L136.20 534.61 L136.70 535.91 L137.20 537.09 L137.70 538.16 L138.20 539.12 L138.70 539.95 L139.20 540.66 L139.70 541.25 L140.20 541.72 L140.70 542.06 L141.20 542.27 L141.70 542.36 L142.20 542.32 L142.70 542.16 L143.20 541.87 L143.70 541.46 L144.20 540.93 L144.70 540.28 L145.20 539.50 L145.70 538.61 L146.20 537.61 L146.70 536.49 L147.20 535.25 L147.70 533.91 L148.20 532.47 L148.70 530.92 L149.20 529.28 L149.71 527.54 L150.21 525.71 L150.71 523.79 L151.21 521.80 L151.71 519.72 L152.21 517.58 L152.71 515.36 L153.21 513.09 L153.71 510.75 L154.21 508.37 L154.71 505.94 L155.21 503.47 L155.71 500.96 L156.21 498.43 L156.71 495.87 L157.21 493.30 L157.71 490.71 L158.21 488.12 L158.71 485.53 L159.21 482.94 L159.71 480.37 L160.21 477.82 L160.71 475.29 L161.21 472.79 L161.71 470.33 L162.21 467.91 L162.71 465.54 L163.21 463.22 L163.71 460.95 L164.21 458.75 L164.71 456.62 L165.21 454.57 L165.71 452.59 L166.21 450.69 L166.71 448.88 L167.21 447.16 L167.71 445.54 L168.21 444.02 L168.71 442.60 L169.21 441.28 L169.71 440.07 L170.21 438.98 L170.71 438.00 L171.21 437.13 L171.71 436.38 L172.21 435.76 L172.71 435.25 L173.21 434.87 L173.71 434.61 L174.21 434.48 L174.71 434.47 L175.21 434.58 L175.71 434.83 L176.21 435.19 L176.71 435.69 L177.21 436.31 L177.71 437.05 L178.21 437.91 L178.71 438.89 L179.21 439.98 L179.71 441.19 L180.21 442.51 L180.71 443.94 L181.21 445.48 L181.71 447.11 L182.21 448.84 L182.71 450.67 L183.21 452.58 L183.71 454.58 L184.21 456.66 L184.71 458.81 L185.21 461.03 L185.71 463.31 L186.21 465.66 L186.71 468.06 L187.21 470.50 L187.71 472.99 L188.21 475.51 L188.71 478.07 L189.21 480.65 L189.71 483.24 L190.21 485.85 L190.71 488.47 L191.21 491.08 L191.71 493.69 L192.21 496.29 L192.71 498.87 L193.21 501.42 L193.71 503.94 L194.21 506.43 L194.71 508.87 L195.21 511.27 L195.71 513.61 L196.21 515.89 L196.71 518.11 L197.21 520.26 L197.71 522.33 L198.21 524.33 L198.71 526.24 L199.21 528.06 L199.71 529.78 L200.21 531.41 L200.71 532.94 L201.21 534.37 L201.71 535.68 L202.21 536.89 L202.71 537.98 L203.21 538.95 L203.71 539.81 L204.21 540.54 L204.71 541.16 L205.21 541.65 L205.71 542.01 L206.21 542.25 L206.71 542.36 L207.21 542.34 L207.71 542.20 L208.21 541.93 L208.71 541.54 L209.21 541.03 L209.71 540.39 L210.21 539.64 L210.71 538.76 L211.21 537.77 L211.71 536.66 L212.21 535.44 L212.71 534.11 L213.21 532.68 L213.71 531.14 L214.21 529.51 L214.72 527.77 L215.22 525.95 L215.72 524.04 L216.22 522.05 L216.72 519.98 L217.22 517.83 L217.72 515.62 L218.22 513.34 L218.72 511.01 L219.22 508.62 L219.72 506.19 L220.22 503.71 L220.72 501.20 L221.22 498.66 L221.72 496.10 L222.22 493.52 L222.72 490.92 L223.22 488.33 L223.72 485.73 L224.22 483.13 L224.72 480.55 L225.22 477.99 L225.72 475.45 L226.22 472.94 L226.72 470.47 L227.22 468.04 L227.72 465.66 L228.22 463.33 L228.72 461.06 L229.22 458.85 L229.72 456.71 L230.22 454.64 L230.72 452.65 L231.22 450.75 L231.72 448.93 L232.22 447.20 L232.72 445.57 L233.22 444.04 L233.72 442.62 L234.22 441.30 L234.72 440.08 L235.22 438.98 L235.72 438.00 L236.22 437.13 L236.72 436.38 L237.22 435.75 L237.72 435.25 L238.22 434.87 L238.72 434.61 L239.22 434.47 L239.72 434.47 L240.22 434.58 L240.72 434.83 L241.22 435.19 L241.72 435.68 L242.22 436.30 L242.72 437.03 L243.22 437.88 L243.72 438.85 L244.22 439.94 L244.72 441.14 L245.22 442.45 L245.72 443.86 L246.22 445.38 L246.72 447.00 L247.22 448.71 L247.72 450.52 L248.22 452.41 L248.72 454.39 L249.22 456.45 L249.72 458.58 L250.22 460.78 L250.72 463.04 L251.22 465.36 L251.72 467.74 L252.22 470.17 L252.72 472.63 L253.22 475.14 L253.72 477.67 L254.22 480.23 L254.72 482.81 L255.22 485.40 L255.72 488.00 L256.22 490.60 L256.72 493.20 L257.22 495.78 L257.72 498.34 L258.22 500.89 L258.72 503.40 L259.22 505.88 L259.72 508.32 L260.22 510.71 L260.72 513.05 L261.22 515.34 L261.72 517.56 L262.22 519.71 L262.72 521.79 L263.22 523.80 L263.72 525.72 L264.22 527.55 L264.72 529.29 L265.22 530.94 L265.72 532.49 L266.22 533.94 L266.72 535.28 L267.22 536.52 L267.72 537.64 L268.22 538.64 L268.72 539.53 L269.22 540.31 L269.72 540.96 L270.22 541.49 L270.72 541.89 L271.22 542.17 L271.72 542.33 L272.22 542.36 L272.72 542.26 L273.22 542.04 L273.72 541.68 L274.22 541.20 L274.72 540.59 L275.22 539.86 L275.72 539.01 L276.22 538.03 L276.72 536.94 L277.22 535.74 L277.72 534.42 L278.22 533.00 L278.72 531.48 L279.22 529.87 L279.73 528.16 L280.23 526.36 L280.73 524.48 L281.23 522.53 L281.73 520.50 L282.23 518.41 L282.73 516.27 L283.23 514.07 L283.73 511.83 L284.23 509.54 L284.73 507.23 L285.23 504.90 L285.73 502.54 L286.23 500.18 L286.73 497.81 L287.23 495.45 L287.73 493.10 L288.23 490.76 L288.73 488.45 L289.23 486.18 L289.73 483.94 L290.23 481.75 L290.73 479.61 L291.23 477.52 L291.73 475.51 L292.23 473.56 L292.73 471.69 L293.23 469.90 L293.73 468.20 L294.23 466.59 L294.73 465.08 L295.23 463.67 L295.73 462.37 L296.23 461.18 L296.73 460.10 L297.23 459.14 L297.73 458.30 L298.23 457.58 L298.73 456.98 L299.23 456.51 L299.73 456.17 L300.23 455.96 L300.73 455.87 L301.23 455.91 L301.73 456.03 L302.23 456.25 L302.73 456.57 L303.23 456.97 L303.73 457.47 L304.23 458.05 L304.73 458.73 L305.23 459.49 L305.73 460.33 L306.23 461.26 L306.73 462.26 L307.23 463.35 L307.73 464.51 L308.23 465.74 L308.73 467.04 L309.23 468.40 L309.73 469.83 L310.23 471.32 L310.73 472.86 L311.23 474.45 L311.73 476.08 L312.23 477.77 L312.73 479.49 L313.23 481.24 L313.73 483.02 L314.23 484.83 L314.73 486.66 L315.23 488.50 L315.73 490.36 L316.23 492.22 L316.73 494.09 L317.23 495.95 L317.73 497.81 L318.23 499.65 L318.73 501.48 L319.23 503.28 L319.73 505.06 L320.23 506.81 L320.73 508.53 L321.23 510.20 L321.73 511.84 L322.23 513.42 L322.73 514.96 L323.23 516.43 L323.73 517.85 L324.23 519.21 L324.73 520.50 L325.23 521.72 L325.73 522.87 L326.23 523.95 L326.73 524.95 L327.23 525.86 L327.73 526.70 L328.23 527.45 L328.73 528.11 L329.23 528.68 L329.73 529.17 L330.23 529.56 L330.73 529.86 L331.23 530.07 L331.73 530.19 L332.23 530.21 L332.73 530.14 L333.23 529.99 L333.73 529.76 L334.23 529.44 L334.73 529.04 L335.23 528.55 L335.73 527.98 L336.23 527.34 L336.73 526.61 L337.23 525.81 L337.73 524.93 L338.23 523.98 L338.73 522.96 L339.23 521.87 L339.73 520.71 L340.23 519.49 L340.73 518.21 L341.23 516.87 L341.73 515.48 L342.23 514.03 L342.73 512.54 L343.23 511.00 L343.73 509.42 L344.23 507.81 L344.74 506.16 L345.24 504.48 L345.74 502.77 L346.24 501.04 L346.74 499.29 L347.24 497.53 L347.74 495.76 L348.24 493.98 L348.74 492.20 L349.24 490.43 L349.74 488.65 L350.24 486.89 L350.74 485.14 L351.24 483.41 L351.74 481.71 L352.24 480.02 L352.74 478.37 L353.24 476.75 L353.74 475.17 L354.24 473.63 L354.74 472.14 L355.24 470.69 L355.74 469.29 L356.24 467.95 L356.74 466.67 L357.24 465.44 L357.74 464.28 L358.24 463.19 L358.74 462.16 L359.24 461.21 L359.74 460.33 L360.24 459.52 L360.74 458.79 L361.24 458.14 L361.74 457.57 L362.24 457.08 L362.74 456.67 L363.24 456.34 L363.74 456.10 L364.24 455.95 L364.74 455.88 L365.24 455.89 L365.74 456.00 L366.24 456.19 L366.74 456.48 L367.24 456.85 L367.74 457.31 L368.24 457.85 L368.74 458.48 L369.24 459.19 L369.74 459.99 L370.24 460.86 L370.74 461.82 L371.24 462.84 L371.74 463.94 L372.24 465.11 L372.74 466.35 L373.24 467.65 L373.74 469.01 L374.24 470.43 L374.74 471.91 L375.24 473.43 L375.74 475.01 L376.24 476.62 L376.74 478.28 L377.24 479.97 L377.74 481.70 L378.24 483.45 L378.74 485.22 L379.24 487.01 L379.74 488.82 L380.24 490.64 L380.74 492.46 L381.24 494.29 L381.74 496.11 L382.24 497.92 L382.74 499.72 L383.24 501.51 L383.74 503.28 L384.24 505.02 L384.74 506.73 L385.24 508.41 L385.74 510.05 L386.24 511.65 L386.74 513.21 L387.24 514.72 L387.74 516.17 L388.24 517.57 L388.74 518.91 L389.24 520.19 L389.74 521.41 L390.24 522.55 L390.74 523.62 L391.24 524.62 L391.74 525.55 L392.24 526.39 L392.74 527.16 L393.24 527.84 L393.74 528.44 L394.24 528.95 L394.74 529.38 L395.24 529.72 L395.74 529.97 L396.24 530.13 L396.74 530.21 L397.24 530.19 L397.74 530.09 L398.24 529.91 L398.74 529.65 L399.24 529.30 L399.74 528.87 L400.24 528.37 L400.74 527.78 L401.24 527.12 L401.74 526.37 L402.24 525.56 L402.74 524.67 L403.24 523.71 L403.74 522.69 L404.24 521.59 L404.74 520.43 L405.24 519.21 L405.74 517.94 L406.24 516.60 L406.74 515.22 L407.24 513.78 L407.74 512.30 L408.24 510.77 L408.74 509.21 L409.24 507.61 L409.75 505.97 L410.25 504.31 L410.75 502.62 L411.25 500.91 L411.75 499.19 L412.25 497.44 L412.75 495.69 L413.25 493.94 L413.75 492.18 L414.25 490.42 L414.75 488.67 L415.25 486.93 L415.75 485.20 L416.25 483.49 L416.75 481.80 L417.25 480.14 L417.75 478.51 L418.25 476.90 L418.75 475.34 L419.25 473.81 L419.75 472.33 L420.25 470.89 L420.75 469.51 L421.25 468.17 L421.75 466.89 L422.25 465.67 L422.75 464.51 L423.25 463.42 L423.75 462.39 L424.25 461.43 L424.75 460.54 L425.25 459.72 L425.75 458.98 L426.25 458.32 L426.75 457.73 L427.25 457.22 L427.75 456.79 L428.25 456.44 L428.75 456.18 L429.25 455.99 L429.75 455.89 L430.25 455.88 L430.75 455.95 L431.25 456.11 L431.75 456.35 L432.25 456.68 L432.75 457.10 L433.25 457.61 L433.75 458.20 L434.25 458.87 L434.75 459.62 L435.25 460.45 L435.75 461.36 L436.25 462.34 L436.75 463.39 L437.25 464.52 L437.75 465.71 L438.25 466.97 L438.75 468.28 L439.25 469.66 L439.75 471.09 L440.25 472.57 L440.75 474.10 L441.25 475.67 L441.75 477.29 L442.25 478.94 L442.75 480.62 L443.25 482.33 L443.75 484.06 L444.25 485.82 L444.75 487.59 L445.25 489.37 L445.75 491.15 L446.25 492.94 L446.75 494.73 L447.25 496.51 L447.75 498.29 L448.25 500.04 L448.75 501.78 L449.25 503.50 L449.75 505.18 L450.25 506.84 L450.75 508.46 L451.25 510.04 L451.75 511.58 L452.25 513.07 L452.75 514.51 L453.25 515.90 L453.75 517.23 L454.25 518.50 L454.75 519.70 L455.25 520.84 L455.75 521.91 L456.25 522.91 L456.75 523.83 L457.25 524.67 L457.75 525.44 L458.25 526.13 L458.75 526.73 L459.25 527.25 L459.75 527.69 L460.25 528.04 L460.75 528.30 L461.25 528.48 L461.75 528.57 L462.25 528.56 L462.75 528.47 L463.25 528.29 L463.75 528.02 L464.25 527.65 L464.75 527.20 L465.25 526.66 L465.75 526.04 L466.25 525.32 L466.75 524.53 L467.25 523.65 L467.75 522.70 L468.25 521.67 L468.75 520.56 L469.25 519.38 L469.75 518.14 L470.25 516.83 L470.75 515.45 L471.25 514.02 L471.75 512.53 L472.25 510.99 L472.75 509.41 L473.25 507.78 L473.75 506.10 L474.26 504.40 L474.76 502.66 L475.26 500.90 L475.76 499.11 L476.26 497.30 L476.76 495.48 L477.26 493.65 L477.76 491.82 L478.26 489.98 L478.76 488.15 L479.26 486.33 L479.76 484.52 L480.26 482.73 L480.76 480.96 L481.26 479.21 L481.76 477.50 L482.26 475.82 L482.76 474.19 L483.26 472.59 L483.76 471.04 L484.26 469.55 L484.76 468.10 L485.26 466.72 L485.76 465.40 L486.26 464.14 L486.76 462.95 L487.26 461.83 L487.76 460.79 L488.26 459.82 L488.76 458.93 L489.26 458.12 L489.76 457.39 L490.26 456.75 L490.76 456.19 L491.26 455.73 L491.76 455.35 L492.26 455.06 L492.76 454.86 L493.26 454.75 L493.76 454.73 L494.26 454.80 L494.76 454.96 L495.26 455.20 L495.76 455.53 L496.26 455.94 L496.76 456.44 L497.26 457.02 L497.76 457.68 L498.26 458.41 L498.76 459.23 L499.26 460.12 L499.76 461.09 L500.26 462.12 L500.76 463.23 L501.26 464.40 L501.76 465.64 L502.26 466.93 L502.76 468.29 L503.26 469.70 L503.76 471.16 L504.26 472.66 L504.76 474.22 L505.26 475.81 L505.76 477.44 L506.26 479.10 L506.76 480.79 L507.26 482.51 L507.76 484.24 L508.26 486.00 L508.76 487.77 L509.26 489.54 L509.76 491.32 L510.26 493.10 L510.76 494.88 L511.26 496.65 L511.76 498.40 L512.26 500.14 L512.76 501.86 L513.26 503.56 L513.76 505.23 L514.26 506.86 L514.76 508.46 L515.26 510.02 L515.76 511.53 L516.26 513.00 L516.76 514.42 L517.26 515.78 L517.76 517.09 L518.26 518.33 L518.76 519.51 L519.26 520.63 L519.76 521.68 L520.26 522.65 L520.76 523.56 L521.26 524.39 L521.76 525.14 L522.26 525.81 L522.76 526.40 L523.26 526.91 L523.76 527.33 L524.26 527.68 L524.76 527.93 L525.26 528.10 L525.76 528.19 L526.26 528.18 L526.76 528.10 L527.26 527.92 L527.76 527.67 L528.26 527.32 L528.76 526.90 L529.26 526.39 L529.76 525.80 L530.26 525.13 L530.76 524.38 L531.26 523.56 L531.76 522.66 L532.26 521.69 L532.76 520.64 L533.26 519.53 L533.76 518.35 L534.26 517.11 L534.76 515.81 L535.26 514.45 L535.76 513.04 L536.26 511.57 L536.76 510.06 L537.26 508.50 L537.76 506.90 L538.26 505.26 L538.76 503.59 L539.27 501.89 L539.77 500.16 L540.27 498.41 L540.77 496.64 L541.27 494.85 L541.77 493.05 L542.27 491.25 L542.77 489.45 L543.27 487.64 L543.77 485.85 L544.27 484.06 L544.77 482.28 L545.27 480.52 L545.77 478.79 L546.27 477.07 L546.77 475.39 L547.27 473.74 L547.77 472.13 L548.27 470.56 L548.77 469.03 L549.27 467.54 L549.77 466.11 L550.27 464.73 L550.77 463.41 L551.27 462.15 L551.77 460.95 L552.27 459.81 L552.77 458.75 L553.27 457.75 L553.77 456.83 L554.27 455.98 L554.77 455.20 L555.27 454.51 L555.77 453.89 L556.27 453.35 L556.77 452.90 L557.27 452.53 L557.77 452.24 L558.27 452.04 L558.77 451.93 L559.27 451.90 L559.77 451.95 L560.27 452.10 L560.77 452.35 L561.27 452.68 L561.77 453.10 L562.27 453.61 L562.77 454.21 L563.27 454.89 L563.77 455.66 L564.27 456.52 L564.77 457.45 L565.27 458.46 L565.77 459.55 L566.27 460.71 L566.77 461.94 L567.27 463.24 L567.77 464.61 L568.27 466.03 L568.77 467.52 L569.27 469.05 L569.77 470.64 L570.27 472.28 L570.77 473.96 L571.27 475.68 L571.77 477.43 L572.27 479.21 L572.77 481.02 L573.27 482.85 L573.77 484.70 L574.27 486.57 L574.77 488.44 L575.27 490.31 L575.77 492.19 L576.27 494.06 L576.77 495.92 L577.27 497.77 L577.77 499.60 L578.27 501.41 L578.77 503.19 L579.27 504.94 L579.77 506.65 L580.27 508.33 L580.77 509.96 L581.27 511.55 L581.77 513.08 L582.27 514.56 L582.77 515.98 L583.27 517.34 L583.77 518.63 L584.27 519.86 L584.77 521.01 L585.27 522.10 L585.77 523.10 L586.27 524.03 L586.77 524.87 L587.27 525.64 L587.77 526.31 L588.27 526.91 L588.77 527.41 L589.27 527.82 L589.77 528.15 L590.27 528.38 L590.77 528.53 L591.27 528.58 L591.77 528.54 L592.27 528.40 L592.77 528.18 L593.27 527.86 L593.77 527.45 L594.27 526.95 L594.77 526.37 L595.27 525.70 L595.77 524.94 L596.27 524.09 L596.77 523.17 L597.27 522.17 L597.77 521.09 L598.27 519.93 L598.77 518.70 L599.27 517.40 L599.77 516.04 L600.27 514.61 L600.77 513.13 L601.27 511.59 L601.77 509.99 L602.27 508.35 L602.77 506.66 L603.27 504.93 L603.77 503.17 L604.28 501.37 L604.78 499.54 L605.28 497.69 L605.78 495.82 L606.28 493.94 L606.78 492.04 L607.28 490.14 L607.78 488.23 L608.28 486.33 L608.78 484.43 L609.28 482.55 L609.78 480.68 L610.28 478.83 L610.78 477.01 L611.28 475.21 L611.78 473.45 L612.28 471.73 L612.78 470.04 L613.28 468.41 L613.78 466.82 L614.28 465.28 L614.78 463.80 L615.28 462.38 L615.78 461.02 L616.28 459.73 L616.78 458.51 L617.28 457.36 L617.78 456.29 L618.28 455.30 L618.78 454.38 L619.28 453.55 L619.78 452.80 L620.28 452.13 L620.78 451.55 L621.28 451.07 L621.78 450.67 L622.28 450.36 L622.78 450.14 L623.28 450.02 L623.78 449.99 L624.28 450.05 L624.78 450.21 L625.28 450.47 L625.78 450.82 L626.28 451.27 L626.78 451.81 L627.28 452.44 L627.78 453.17 L628.28 453.98 L628.78 454.88 L629.28 455.87 L629.78 456.94 L630.28 458.08 L630.78 459.31 L631.28 460.61 L631.78 461.98 L632.28 463.42 L632.78 464.93 L633.28 466.49 L633.78 468.11 L634.28 469.79 L634.78 471.51 L635.28 473.28 L635.78 475.09 L636.28 476.94 L636.78 478.82 L637.28 480.72 L637.78 482.65 L638.28 484.60 L638.78 486.56 L639.28 488.53 L639.78 490.50 L640.28 492.47 L640.78 494.44 L641.28 496.39 L641.78 498.34 L642.28 500.26 L642.78 502.15 L643.28 504.02 L643.78 505.86 L644.28 507.66 L644.78 509.41 L645.28 511.12 L645.78 512.78 L646.28 514.38 L646.78 515.93 L647.28 517.41 L647.78 518.83 L648.28 520.18 L648.78 521.46 L649.28 522.66 L649.78 523.78 L650.28 524.82 L650.78 525.78 L651.28 526.65 L651.78 527.44 L652.28 528.13 L652.78 528.74 L653.28 529.25 L653.78 529.67 L654.28 529.99 L654.78 530.21 L655.28 530.34 L655.78 530.37 L656.28 530.31 L656.78 530.15 L657.28 529.89 L657.78 529.54 L658.28 529.09 L658.78 528.55 L659.28 527.91 L659.78 527.19 L660.28 526.38 L660.78 525.47 L661.28 524.49 L661.78 523.42 L662.28 522.27 L662.78 521.04 L663.28 519.73 L663.78 518.36 L664.28 516.91 L664.78 515.41 L665.28 513.83 L665.78 512.20 L666.28 510.52 L666.78 508.79 L667.28 507.01 L667.78 505.18 L668.28 503.32 L668.78 501.43 L669.29 499.51 L669.79 497.56 L670.29 495.59 L670.79 493.61 L671.29 491.61 L671.79 489.61 L672.29 487.61 L672.79 485.61 L673.29 483.62 L673.79 481.64 L674.29 479.68 L674.79 477.74 L675.29 475.83 L675.79 473.95 L676.29 472.10 L676.79 470.29 L677.29 468.52 L677.79 466.81 L678.29 465.14 L678.79 463.53 L679.29 461.98 L679.79 460.49 L680.29 459.07 L680.79 457.72 L681.29 456.44 L681.79 455.24 L682.29 454.12 L682.79 453.08 L683.29 452.12 L683.79 451.25 L684.29 450.46 L684.79 449.77 L685.29 449.17 L685.79 448.66 L686.29 448.24 L686.79 447.92 L687.29 447.70 L687.79 447.57 L688.29 447.54 L688.79 447.60 L689.29 447.77 L689.79 448.03 L690.29 448.39 L690.79 448.85 L691.29 449.40 L691.79 450.05 L692.29 450.79 L692.79 451.62 L693.29 452.54 L693.79 453.54 L694.29 454.64 L694.79 455.81 L695.29 457.06 L695.79 458.39 L696.29 459.79 L696.79 461.26 L697.29 462.79 L697.79 464.39 L698.29 466.05 L698.79 467.76 L699.29 469.53 L699.79 471.34 L700.29 473.19 L700.79 475.08 L701.29 477.00 L701.79 478.95 L702.29 480.93 L702.79 482.93 L703.29 484.94 L703.79 486.96 L704.29 488.99 L704.79 491.01 L705.29 493.04 L705.79 495.05 L706.29 497.05 L706.79 499.03 L707.29 500.99 L707.79 502.92 L708.29 504.82 L708.79 506.68 L709.29 508.50 L709.79 510.28 L710.29 512.00 L710.79 513.67 L711.29 515.29 L711.79 516.84 L712.29 518.32 L712.79 519.74 L713.29 521.09 L713.79 522.36 L714.29 523.55 L714.79 524.66 L715.29 525.68 L715.79 526.63 L716.29 527.48 L716.79 528.24 L717.29 528.91 L717.79 529.48 L718.29 529.96 L718.79 530.35 L719.29 530.63 L719.79 530.82 L720.29 530.91 L720.79 530.90 L721.29 530.80 L721.79 530.59 L722.29 530.29 L722.79 529.89 L723.29 529.39 L723.79 528.80 L724.29 528.11 L724.79 527.33 L725.29 526.47 L725.79 525.51 L726.29 524.47 L726.79 523.34 L727.29 522.13 L727.79 520.85 L728.29 519.49 L728.79 518.06 L729.29 516.56 L729.79 514.99 L730.29 513.36 L730.79 511.68 L731.29 509.94 L731.79 508.15 L732.29 506.32 L732.79 504.44 L733.29 502.53 L733.79 500.58 L734.30 498.61 L734.80 496.62 L735.30 494.60 L735.80 492.57 L736.30 490.54 L736.80 488.50 L737.30 486.46 L737.80 484.42 L738.30 482.40 L738.80 480.38 L739.30 478.39 L739.80 476.43 L740.30 474.49 L740.80 472.58 L741.30 470.71 L741.80 468.89 L742.30 467.11 L742.80 465.38 L743.30 463.70 L743.80 462.09 L744.30 460.53 L744.80 459.04 L745.30 457.62 L745.80 456.28 L746.30 455.01 L746.80 453.81 L747.30 452.70 L747.80 451.68 L748.30 450.73 L748.80 449.88 L749.30 449.12 L749.80 448.45 L750.30 447.88 L750.80 447.40 L751.30 447.02 L751.80 446.73 L752.30 446.54 L752.80 446.45 L753.30 446.46 L753.80 446.57 L754.30 446.78 L754.80 447.08 L755.30 447.48 L755.80 447.98 L756.30 448.57 L756.80 449.26 L757.30 450.04 L757.80 450.91 L758.30 451.87 L758.80 452.91 L759.30 454.04 L759.80 455.24 L760.30 456.53 L760.80 457.89 L761.30 459.32 L761.80 460.82 L762.30 462.39 L762.80 464.02 L763.30 465.71 L763.80 467.44 L764.30 469.23 L764.80 471.07 L765.30 472.94 L765.80 474.86 L766.30 476.80" stroke="#0000ff" stroke-width="3.9"/>
<path d="M117.20 479.68 L117.70 477.19 L118.20 474.73 L118.70 472.31 L119.20 469.94 L119.70 467.61 L120.20 465.33 L120.70 463.12 L121.20 460.97 L121.70 458.89 L122.20 456.88 L122.70 454.95 L123.20 453.10 L123.70 451.35 L124.20 449.68 L124.70 448.11 L125.20 446.64 L125.70 445.27 L126.20 444.01 L126.70 442.86 L127.20 441.82 L127.70 440.89 L128.20 440.08 L128.70 439.38 L129.20 438.81 L129.70 438.35 L130.20 438.02 L130.70 437.81 L131.20 437.73 L131.70 437.76 L132.20 437.93 L132.70 438.21 L133.20 438.62 L133.70 439.14 L134.20 439.79 L134.70 440.56 L135.20 441.44 L135.70 442.44 L136.20 443.55 L136.70 444.77 L137.20 446.09 L137.70 447.52 L138.20 449.06 L138.70 450.68 L139.20 452.41 L139.70 454.22 L140.20 456.11 L140.70 458.09 L141.20 460.14 L141.70 462.27 L142.20 464.46 L142.70 466.71 L143.20 469.02 L143.70 471.38 L144.20 473.78 L144.70 476.23 L145.20 478.70 L145.70 481.21 L146.20 483.74 L146.70 486.28 L147.20 488.84 L147.70 491.40 L148.20 493.96 L148.70 496.51 L149.20 499.05 L149.71 501.57 L150.21 504.06 L150.71 506.53 L151.21 508.95 L151.71 511.34 L152.21 513.68 L152.71 515.96 L153.21 518.19 L153.71 520.35 L154.21 522.45 L154.71 524.47 L155.21 526.42 L155.71 528.28 L156.21 530.05 L156.71 531.73 L157.21 533.32 L157.71 534.81 L158.21 536.20 L158.71 537.48 L159.21 538.66 L159.71 539.72 L160.21 540.67 L160.71 541.50 L161.21 542.22 L161.71 542.82 L162.21 543.29 L162.71 543.65 L163.21 543.88 L163.71 543.99 L164.21 543.98 L164.71 543.84 L165.21 543.58 L165.71 543.19 L166.21 542.68 L166.71 542.06 L167.21 541.31 L167.71 540.44 L168.21 539.46 L168.71 538.36 L169.21 537.16 L169.71 535.84 L170.21 534.42 L170.71 532.90 L171.21 531.28 L171.71 529.57 L172.21 527.76 L172.71 525.87 L173.21 523.90 L173.71 521.85 L174.21 519.73 L174.71 517.54 L175.21 515.29 L175.71 512.98 L176.21 510.62 L176.71 508.21 L177.21 505.77 L177.71 503.28 L178.21 500.77 L178.71 498.24 L179.21 495.69 L179.71 493.12 L180.21 490.56 L180.71 487.99 L181.21 485.43 L181.71 482.88 L182.21 480.35 L182.71 477.85 L183.21 475.37 L183.71 472.93 L184.21 470.54 L184.71 468.19 L185.21 465.89 L185.71 463.66 L186.21 461.48 L186.71 459.38 L187.21 457.35 L187.71 455.39 L188.21 453.52 L188.71 451.74 L189.21 450.05 L189.71 448.45 L190.21 446.95 L190.71 445.56 L191.21 444.27 L191.71 443.09 L192.21 442.02 L192.71 441.07 L193.21 440.23 L193.71 439.51 L194.21 438.91 L194.71 438.43 L195.21 438.07 L195.71 437.84 L196.21 437.73 L196.71 437.75 L197.21 437.89 L197.71 438.15 L198.21 438.53 L198.71 439.04 L199.21 439.67 L199.71 440.41 L200.21 441.27 L200.71 442.25 L201.21 443.34 L201.71 444.54 L202.21 445.85 L202.71 447.26 L203.21 448.77 L203.71 450.38 L204.21 452.09 L204.71 453.89 L205.21 455.77 L205.71 457.73 L206.21 459.77 L206.71 461.88 L207.21 464.06 L207.71 466.30 L208.21 468.60 L208.71 470.95 L209.21 473.35 L209.71 475.78 L210.21 478.26 L210.71 480.76 L211.21 483.28 L211.71 485.82 L212.21 488.38 L212.71 490.94 L213.21 493.50 L213.71 496.05 L214.21 498.59 L214.72 501.12 L215.22 503.62 L215.72 506.09 L216.22 508.52 L216.72 510.91 L217.22 513.26 L217.72 515.56 L218.22 517.80 L218.72 519.97 L219.22 522.08 L219.72 524.11 L220.22 526.07 L220.72 527.95 L221.22 529.74 L221.72 531.44 L222.22 533.04 L222.72 534.55 L223.22 535.96 L223.72 537.26 L224.22 538.45 L224.72 539.54 L225.22 540.51 L225.72 541.36 L226.22 542.10 L226.72 542.72 L227.22 543.22 L227.72 543.59 L228.22 543.85 L228.72 543.98 L229.22 543.99 L229.72 543.87 L230.22 543.63 L230.72 543.27 L231.22 542.79 L231.72 542.19 L232.22 541.47 L232.72 540.63 L233.22 539.67 L233.72 538.60 L234.22 537.42 L234.72 536.13 L235.22 534.74 L235.72 533.25 L236.22 531.65 L236.72 529.97 L237.22 528.19 L237.72 526.32 L238.22 524.37 L238.72 522.35 L239.22 520.25 L239.72 518.08 L240.22 515.85 L240.72 513.57 L241.22 511.23 L241.72 508.84 L242.22 506.41 L242.72 503.94 L243.22 501.45 L243.72 498.92 L244.22 496.39 L244.72 493.83 L245.22 491.27 L245.72 488.71 L246.22 486.16 L246.72 483.61 L247.22 481.09 L247.72 478.58 L248.22 476.11 L248.72 473.66 L249.22 471.26 L249.72 468.91 L250.22 466.60 L250.72 464.35 L251.22 462.16 L251.72 460.04 L252.22 457.99 L252.72 456.02 L253.22 454.13 L253.72 452.32 L254.22 450.60 L254.72 448.98 L255.22 447.45 L255.72 446.03 L256.22 444.70 L256.72 443.49 L257.22 442.39 L257.72 441.39 L258.22 440.52 L258.72 439.76 L259.22 439.11 L259.72 438.59 L260.22 438.19 L260.72 437.92 L261.22 437.76 L261.72 437.73 L262.22 437.82 L262.72 438.03 L263.22 438.36 L263.72 438.82 L264.22 439.39 L264.72 440.08 L265.22 440.89 L265.72 441.81 L266.22 442.85 L266.72 444.00 L267.22 445.26 L267.72 446.62 L268.22 448.10 L268.72 449.67 L269.22 451.34 L269.72 453.11 L270.22 454.98 L270.72 456.93 L271.22 458.96 L271.72 461.08 L272.22 463.28 L272.72 465.55 L273.22 467.89 L273.72 470.30 L274.22 472.77 L274.72 475.29 L275.22 477.86 L275.72 480.48 L276.22 483.15 L276.72 485.85 L277.22 488.58 L277.72 491.34 L278.22 494.12 L278.72 496.92 L279.22 499.73 L279.73 502.54 L280.23 505.35 L280.73 508.17 L281.23 510.97 L281.73 513.75 L282.23 516.52 L282.73 519.26 L283.23 521.97 L283.73 524.64 L284.23 527.28 L284.73 529.87 L285.23 532.41 L285.73 534.89 L286.23 537.32 L286.73 539.68 L287.23 541.97 L287.73 544.19 L288.23 546.33 L288.73 548.39 L289.23 550.37 L289.73 552.26 L290.23 554.06 L290.73 555.76 L291.23 557.37 L291.73 558.87 L292.23 560.27 L292.73 561.56 L293.23 562.74 L293.73 563.81 L294.23 564.77 L294.73 565.61 L295.23 566.34 L295.73 566.95 L296.23 567.44 L296.73 567.81 L297.23 568.05 L297.73 568.18 L298.23 568.18 L298.73 568.04 L299.23 567.76 L299.73 567.34 L300.23 566.77 L300.73 566.06 L301.23 565.20 L301.73 564.21 L302.23 563.09 L302.73 561.82 L303.23 560.43 L303.73 558.90 L304.23 557.25 L304.73 555.48 L305.23 553.58 L305.73 551.57 L306.23 549.44 L306.73 547.21 L307.23 544.87 L307.73 542.43 L308.23 539.89 L308.73 537.27 L309.23 534.56 L309.73 531.77 L310.23 528.90 L310.73 525.96 L311.23 522.96 L311.73 519.90 L312.23 516.79 L312.73 513.63 L313.23 510.43 L313.73 507.20 L314.23 503.93 L314.73 500.65 L315.23 497.35 L315.73 494.04 L316.23 490.72 L316.73 487.41 L317.23 484.11 L317.73 480.82 L318.23 477.56 L318.73 474.32 L319.23 471.12 L319.73 467.96 L320.23 464.84 L320.73 461.78 L321.23 458.77 L321.73 455.83 L322.23 452.96 L322.73 450.16 L323.23 447.44 L323.73 444.81 L324.23 442.27 L324.73 439.82 L325.23 437.47 L325.73 435.23 L326.23 433.10 L326.73 431.08 L327.23 429.17 L327.73 427.39 L328.23 425.72 L328.73 424.19 L329.23 422.78 L329.73 421.51 L330.23 420.37 L330.73 419.37 L331.23 418.51 L331.73 417.79 L332.23 417.21 L332.73 416.77 L333.23 416.48 L333.73 416.33 L334.23 416.32 L334.73 416.47 L335.23 416.78 L335.73 417.24 L336.23 417.85 L336.73 418.62 L337.23 419.54 L337.73 420.60 L338.23 421.82 L338.73 423.17 L339.23 424.67 L339.73 426.30 L340.23 428.07 L340.73 429.96 L341.23 431.98 L341.73 434.12 L342.23 436.38 L342.73 438.75 L343.23 441.22 L343.73 443.79 L344.23 446.46 L344.74 449.22 L345.24 452.06 L345.74 454.97 L346.24 457.95 L346.74 461.00 L347.24 464.10 L347.74 467.25 L348.24 470.44 L348.74 473.67 L349.24 476.92 L349.74 480.19 L350.24 483.48 L350.74 486.77 L351.24 490.06 L351.74 493.34 L352.24 496.60 L352.74 499.84 L353.24 503.05 L353.74 506.22 L354.24 509.35 L354.74 512.42 L355.24 515.43 L355.74 518.38 L356.24 521.25 L356.74 524.04 L357.24 526.75 L357.74 529.37 L358.24 531.89 L358.74 534.31 L359.24 536.61 L359.74 538.81 L360.24 540.88 L360.74 542.84 L361.24 544.66 L361.74 546.36 L362.24 547.92 L362.74 549.33 L363.24 550.61 L363.74 551.75 L364.24 552.73 L364.74 553.57 L365.24 554.25 L365.74 554.78 L366.24 555.16 L366.74 555.38 L367.24 555.44 L367.74 555.35 L368.24 555.10 L368.74 554.68 L369.24 554.11 L369.74 553.38 L370.24 552.49 L370.74 551.45 L371.24 550.26 L371.74 548.91 L372.24 547.43 L372.74 545.80 L373.24 544.03 L373.74 542.13 L374.24 540.10 L374.74 537.95 L375.24 535.67 L375.74 533.29 L376.24 530.79 L376.74 528.20 L377.24 525.51 L377.74 522.73 L378.24 519.86 L378.74 516.93 L379.24 513.92 L379.74 510.85 L380.24 507.73 L380.74 504.56 L381.24 501.36 L381.74 498.12 L382.24 494.86 L382.74 491.59 L383.24 488.30 L383.74 485.02 L384.24 481.75 L384.74 478.49 L385.24 475.26 L385.74 472.06 L386.24 468.90 L386.74 465.79 L387.24 462.73 L387.74 459.74 L388.24 456.81 L388.74 453.96 L389.24 451.19 L389.74 448.52 L390.24 445.94 L390.74 443.46 L391.24 441.09 L391.74 438.84 L392.24 436.71 L392.74 434.70 L393.24 432.82 L393.74 431.07 L394.24 429.47 L394.74 428.00 L395.24 426.69 L395.74 425.52 L396.24 424.50 L396.74 423.64 L397.24 422.93 L397.74 422.38 L398.24 422.00 L398.74 421.77 L399.24 421.70 L399.74 421.79 L400.24 422.02 L400.74 422.40 L401.24 422.92 L401.74 423.58 L402.24 424.39 L402.74 425.34 L403.24 426.43 L403.74 427.65 L404.24 429.00 L404.74 430.49 L405.24 432.10 L405.74 433.84 L406.24 435.69 L406.74 437.66 L407.24 439.74 L407.74 441.93 L408.24 444.22 L408.74 446.61 L409.24 449.09 L409.75 451.66 L410.25 454.30 L410.75 457.02 L411.25 459.81 L411.75 462.67 L412.25 465.58 L412.75 468.54 L413.25 471.54 L413.75 474.58 L414.25 477.65 L414.75 480.75 L415.25 483.86 L415.75 486.99 L416.25 490.11 L416.75 493.23 L417.25 496.35 L417.75 499.44 L418.25 502.52 L418.75 505.56 L419.25 508.56 L419.75 511.52 L420.25 514.43 L420.75 517.29 L421.25 520.08 L421.75 522.80 L422.25 525.45 L422.75 528.02 L423.25 530.50 L423.75 532.89 L424.25 535.18 L424.75 537.37 L425.25 539.45 L425.75 541.43 L426.25 543.28 L426.75 545.02 L427.25 546.63 L427.75 548.12 L428.25 549.48 L428.75 550.70 L429.25 551.79 L429.75 552.74 L430.25 553.55 L430.75 554.22 L431.25 554.74 L431.75 555.12 L432.25 555.36 L432.75 555.44 L433.25 555.38 L433.75 555.15 L434.25 554.76 L434.75 554.22 L435.25 553.51 L435.75 552.64 L436.25 551.62 L436.75 550.45 L437.25 549.12 L437.75 547.65 L438.25 546.04 L438.75 544.29 L439.25 542.40 L439.75 540.38 L440.25 538.24 L440.75 535.98 L441.25 533.60 L441.75 531.12 L442.25 528.53 L442.75 525.85 L443.25 523.08 L443.75 520.22 L444.25 517.29 L444.75 514.30 L445.25 511.24 L445.75 508.13 L446.25 504.97 L446.75 501.78 L447.25 498.55 L447.75 495.31 L448.25 492.05 L448.75 488.79 L449.25 485.52 L449.75 482.27 L450.25 479.04 L450.75 475.83 L451.25 472.66 L451.75 469.53 L452.25 466.45 L452.75 463.43 L453.25 460.47 L453.75 457.59 L454.25 454.78 L454.75 452.06 L455.25 449.44 L455.75 446.91 L456.25 444.49 L456.75 442.18 L457.25 439.99 L457.75 437.93 L458.25 435.99 L458.75 434.18 L459.25 432.51 L459.75 430.99 L460.25 429.60 L460.75 428.37 L461.25 427.29 L461.75 426.36 L462.25 425.59 L462.75 424.98 L463.25 424.53 L463.75 424.24 L464.25 424.11 L464.75 424.14 L465.25 424.32 L465.75 424.66 L466.25 425.15 L466.75 425.79 L467.25 426.58 L467.75 427.51 L468.25 428.59 L468.75 429.82 L469.25 431.18 L469.75 432.68 L470.25 434.31 L470.75 436.08 L471.25 437.96 L471.75 439.97 L472.25 442.09 L472.75 444.33 L473.25 446.67 L473.75 449.11 L474.26 451.64 L474.76 454.26 L475.26 456.97 L475.76 459.75 L476.26 462.60 L476.76 465.51 L477.26 468.48 L477.76 471.49 L478.26 474.55 L478.76 477.64 L479.26 480.76 L479.76 483.90 L480.26 487.06 L480.76 490.21 L481.26 493.37 L481.76 496.51 L482.26 499.64 L482.76 502.75 L483.26 505.82 L483.76 508.85 L484.26 511.84 L484.76 514.77 L485.26 517.65 L485.76 520.45 L486.26 523.19 L486.76 525.84 L487.26 528.41 L487.76 530.88 L488.26 533.26 L488.76 535.53 L489.26 537.70 L489.76 539.75 L490.26 541.68 L490.76 543.49 L491.26 545.17 L491.76 546.72 L492.26 548.14 L492.76 549.42 L493.26 550.55 L493.76 551.54 L494.26 552.39 L494.76 553.08 L495.26 553.63 L495.76 554.02 L496.26 554.27 L496.76 554.35 L497.26 554.29 L497.76 554.08 L498.26 553.71 L498.76 553.20 L499.26 552.54 L499.76 551.73 L500.26 550.77 L500.76 549.67 L501.26 548.43 L501.76 547.06 L502.26 545.55 L502.76 543.91 L503.26 542.14 L503.76 540.25 L504.26 538.24 L504.76 536.12 L505.26 533.88 L505.76 531.55 L506.26 529.12 L506.76 526.59 L507.26 523.98 L507.76 521.28 L508.26 518.51 L508.76 515.68 L509.26 512.78 L509.76 509.83 L510.26 506.83 L510.76 503.79 L511.26 500.71 L511.76 497.61 L512.26 494.49 L512.76 491.36 L513.26 488.22 L513.76 485.08 L514.26 481.95 L514.76 478.85 L515.26 475.76 L515.76 472.71 L516.26 469.69 L516.76 466.72 L517.26 463.80 L517.76 460.94 L518.26 458.15 L518.76 455.43 L519.26 452.79 L519.76 450.23 L520.26 447.76 L520.76 445.39 L521.26 443.12 L521.76 440.96 L522.26 438.91 L522.76 436.98 L523.26 435.16 L523.76 433.48 L524.26 431.92 L524.76 430.50 L525.26 429.21 L525.76 428.06 L526.26 427.05 L526.76 426.19 L527.26 425.48 L527.76 424.91 L528.26 424.49 L528.76 424.22 L529.26 424.11 L529.76 424.14 L530.26 424.33 L530.76 424.66 L531.26 425.15 L531.76 425.79 L532.26 426.57 L532.76 427.51 L533.26 428.58 L533.76 429.80 L534.26 431.15 L534.76 432.64 L535.26 434.26 L535.76 436.01 L536.26 437.89 L536.76 439.88 L537.26 441.99 L537.76 444.20 L538.26 446.53 L538.76 448.95 L539.27 451.46 L539.77 454.06 L540.27 456.75 L540.77 459.50 L541.27 462.33 L541.77 465.22 L542.27 468.16 L542.77 471.16 L543.27 474.19 L543.77 477.26 L544.27 480.35 L544.77 483.46 L545.27 486.59 L545.77 489.72 L546.27 492.85 L546.77 495.97 L547.27 499.07 L547.77 502.15 L548.27 505.19 L548.77 508.20 L549.27 511.16 L549.77 514.07 L550.27 516.92 L550.77 519.70 L551.27 522.41 L551.77 525.04 L552.27 527.58 L552.77 530.04 L553.27 532.39 L553.77 534.65 L554.27 536.79 L554.77 538.82 L555.27 540.74 L555.77 542.53 L556.27 544.19 L556.77 545.73 L557.27 547.13 L557.77 548.39 L558.27 549.51 L558.77 550.49 L559.27 551.33 L559.77 552.02 L560.27 552.55 L560.77 552.94 L561.27 553.18 L561.77 553.26 L562.27 553.20 L562.77 552.99 L563.27 552.63 L563.77 552.12 L564.27 551.48 L564.77 550.68 L565.27 549.75 L565.77 548.67 L566.27 547.46 L566.77 546.12 L567.27 544.64 L567.77 543.04 L568.27 541.31 L568.77 539.46 L569.27 537.50 L569.77 535.42 L570.27 533.24 L570.77 530.96 L571.27 528.58 L571.77 526.10 L572.27 523.55 L572.77 520.91 L573.27 518.20 L573.77 515.43 L574.27 512.59 L574.77 509.70 L575.27 506.76 L575.77 503.78 L576.27 500.77 L576.77 497.73 L577.27 494.67 L577.77 491.60 L578.27 488.52 L578.77 485.44 L579.27 482.37 L579.77 479.31 L580.27 476.28 L580.77 473.28 L581.27 470.31 L581.77 467.38 L582.27 464.51 L582.77 461.69 L583.27 458.93 L583.77 456.24 L584.27 453.63 L584.77 451.09 L585.27 448.65 L585.77 446.30 L586.27 444.04 L586.77 441.89 L587.27 439.84 L587.77 437.91 L588.27 436.10 L588.77 434.40 L589.27 432.84 L589.77 431.40 L590.27 430.09 L590.77 428.92 L591.27 427.88 L591.77 426.99 L592.27 426.24 L592.77 425.63 L593.27 425.16 L593.77 424.85 L594.27 424.68 L594.77 424.65 L595.27 424.79 L595.77 425.07 L596.27 425.51 L596.77 426.10 L597.27 426.85 L597.77 427.74 L598.27 428.78 L598.77 429.97 L599.27 431.30 L599.77 432.77 L600.27 434.37 L600.77 436.10 L601.27 437.96 L601.77 439.95 L602.27 442.05 L602.77 444.27 L603.27 446.59 L603.77 449.02 L604.28 451.54 L604.78 454.15 L605.28 456.85 L605.78 459.62 L606.28 462.46 L606.78 465.37 L607.28 468.34 L607.78 471.35 L608.28 474.41 L608.78 477.50 L609.28 480.62 L609.78 483.76 L610.28 486.91 L610.78 490.07 L611.28 493.22 L611.78 496.36 L612.28 499.49 L612.78 502.59 L613.28 505.66 L613.78 508.69 L614.28 511.67 L614.78 514.59 L615.28 517.46 L615.78 520.25 L616.28 522.97 L616.78 525.61 L617.28 528.16 L617.78 530.61 L618.28 532.97 L618.78 535.21 L619.28 537.35 L619.78 539.37 L620.28 541.27 L620.78 543.04 L621.28 544.68 L621.78 546.19 L622.28 547.56 L622.78 548.79 L623.28 549.87 L623.78 550.81 L624.28 551.60 L624.78 552.24 L625.28 552.72 L625.78 553.06 L626.28 553.23 L626.78 553.26 L627.28 553.13 L627.78 552.85 L628.28 552.43 L628.78 551.85 L629.28 551.13 L629.78 550.27 L630.28 549.27 L630.78 548.12 L631.28 546.84 L631.78 545.42 L632.28 543.87 L632.78 542.20 L633.28 540.40 L633.78 538.48 L634.28 536.44 L634.78 534.30 L635.28 532.05 L635.78 529.70 L636.28 527.26 L636.78 524.72 L637.28 522.11 L637.78 519.41 L638.28 516.65 L638.78 513.82 L639.28 510.93 L639.78 508.00 L640.28 505.02 L640.78 502.00 L641.28 498.95 L641.78 495.88 L642.28 492.79 L642.78 489.69 L643.28 486.59 L643.78 483.50 L644.28 480.42 L644.78 477.36 L645.28 474.33 L645.78 471.33 L646.28 468.37 L646.78 465.46 L647.28 462.60 L647.78 459.80 L648.28 457.08 L648.78 454.42 L649.28 451.85 L649.78 449.36 L650.28 446.97 L650.78 444.67 L651.28 442.47 L651.78 440.39 L652.28 438.41 L652.78 436.56 L653.28 434.82 L653.78 433.21 L654.28 431.73 L654.78 430.38 L655.28 429.17 L655.78 428.10 L656.28 427.17 L656.78 426.38 L657.28 425.74 L657.78 425.24 L658.28 424.90 L658.78 424.70 L659.28 424.65 L659.78 424.75 L660.28 425.00 L660.78 425.40 L661.28 425.95 L661.78 426.65 L662.28 427.50 L662.78 428.49 L663.28 429.62 L663.78 430.89 L664.28 432.30 L664.78 433.84 L665.28 435.52 L665.78 437.31 L666.28 439.23 L666.78 441.27 L667.28 443.41 L667.78 445.67 L668.28 448.02 L668.78 450.48 L669.29 453.02 L669.79 455.65 L670.29 458.35 L670.79 461.13 L671.29 463.97 L671.79 466.87 L672.29 469.83 L672.79 472.83 L673.29 475.86 L673.79 478.93 L674.29 482.02 L674.79 485.13 L675.29 488.24 L675.79 491.36 L676.29 494.47 L676.79 497.57 L677.29 500.65 L677.79 503.70 L678.29 506.72 L678.79 509.69 L679.29 512.62 L679.79 515.49 L680.29 518.30 L680.79 521.04 L681.29 523.70 L681.79 526.28 L682.29 528.78 L682.79 531.18 L683.29 533.48 L683.79 535.68 L684.29 537.76 L684.79 539.74 L685.29 541.59 L685.79 543.32 L686.29 544.92 L686.79 546.39 L687.29 547.72 L687.79 548.92 L688.29 549.98 L688.79 550.89 L689.29 551.66 L689.79 552.28 L690.29 552.75 L690.79 553.07 L691.29 553.24 L691.79 553.25 L692.29 553.12 L692.79 552.84 L693.29 552.42 L693.79 551.84 L694.29 551.12 L694.79 550.25 L695.29 549.24 L695.79 548.10 L696.29 546.81 L696.79 545.39 L697.29 543.84 L697.79 542.16 L698.29 540.36 L698.79 538.44 L699.29 536.40 L699.79 534.25 L700.29 532.00 L700.79 529.65 L701.29 527.21 L701.79 524.67 L702.29 522.05 L702.79 519.36 L703.29 516.59 L703.79 513.76 L704.29 510.88 L704.79 507.94 L705.29 504.96 L705.79 501.94 L706.29 498.89 L706.79 495.82 L707.29 492.73 L707.79 489.63 L708.29 486.53 L708.79 483.44 L709.29 480.36 L709.79 477.30 L710.29 474.27 L710.79 471.27 L711.29 468.31 L711.79 465.40 L712.29 462.54 L712.79 459.75 L713.29 457.02 L713.79 454.37 L714.29 451.80 L714.79 449.31 L715.29 446.92 L715.79 444.62 L716.29 442.43 L716.79 440.35 L717.29 438.37 L717.79 436.52 L718.29 434.79 L718.79 433.18 L719.29 431.70 L719.79 430.36 L720.29 429.15 L720.79 428.08 L721.29 427.15 L721.79 426.37 L722.29 425.73 L722.79 425.24 L723.29 424.89 L723.79 424.69 L724.29 424.65 L724.79 424.75 L725.29 425.01 L725.79 425.41 L726.29 425.97 L726.79 426.67 L727.29 427.52 L727.79 428.51 L728.29 429.65 L728.79 430.92 L729.29 432.33 L729.79 433.88 L730.29 435.55 L730.79 437.35 L731.29 439.27 L731.79 441.31 L732.29 443.46 L732.79 445.71 L733.29 448.07 L733.79 450.53 L734.30 453.07 L734.80 455.70 L735.30 458.41 L735.80 461.19 L736.30 464.03 L736.80 466.93 L737.30 469.89 L737.80 472.89 L738.30 475.92 L738.80 478.99 L739.30 482.08 L739.80 485.19 L740.30 488.31 L740.80 491.42 L741.30 494.54 L741.80 497.63 L742.30 500.71 L742.80 503.76 L743.30 506.78 L743.80 509.75 L744.30 512.68 L744.80 515.55 L745.30 518.36 L745.80 521.09 L746.30 523.76 L746.80 526.34 L747.30 528.83 L747.80 531.23 L748.30 533.53 L748.80 535.72 L749.30 537.81 L749.80 539.78 L750.30 541.63 L750.80 543.35 L751.30 544.95 L751.80 546.42 L752.30 547.75 L752.80 548.94 L753.30 550.00 L753.80 550.91 L754.30 551.67 L754.80 552.29 L755.30 552.75 L755.80 553.07 L756.30 553.24 L756.80 553.25 L757.30 553.12 L757.80 552.84 L758.30 552.41 L758.80 551.83 L759.30 551.10 L759.80 550.23 L760.30 549.22 L760.80 548.07 L761.30 546.78 L761.80 545.36 L762.30 543.81 L762.80 542.13 L763.30 540.32 L763.80 538.40 L764.30 536.36 L764.80 534.21 L765.30 531.96 L765.80 529.60 L766.30 527.16" stroke="#000" stroke-width="4.1"/>
<path d="M117.20 543.25 L117.70 543.62 L118.20 543.87 L118.70 543.99 L119.20 543.98 L119.70 543.84 L120.20 543.57 L120.70 543.19 L121.20 542.67 L121.70 542.04 L122.20 541.28 L122.70 540.40 L123.20 539.41 L123.70 538.30 L124.20 537.08 L124.70 535.74 L125.20 534.31 L125.70 532.76 L126.20 531.12 L126.70 529.38 L127.20 527.55 L127.70 525.64 L128.20 523.63 L128.70 521.55 L129.20 519.40 L129.70 517.18 L130.20 514.89 L130.70 512.55 L131.20 510.15 L131.70 507.71 L132.20 505.22 L132.70 502.70 L133.20 500.15 L133.70 497.57 L134.20 494.98 L134.70 492.37 L135.20 489.76 L135.70 487.15 L136.20 484.54 L136.70 481.95 L137.20 479.37 L137.70 476.82 L138.20 474.30 L138.70 471.81 L139.20 469.37 L139.70 466.97 L140.20 464.63 L140.70 462.34 L141.20 460.12 L141.70 457.97 L142.20 455.89 L142.70 453.89 L143.20 451.97 L143.70 450.14 L144.20 448.40 L144.70 446.76 L145.20 445.22 L145.70 443.79 L146.20 442.45 L146.70 441.23 L147.20 440.12 L147.70 439.13 L148.20 438.26 L148.70 437.50 L149.20 436.87 L149.71 436.35 L150.21 435.97 L150.71 435.70 L151.21 435.57 L151.71 435.56 L152.21 435.67 L152.71 435.91 L153.21 436.28 L153.71 436.77 L154.21 437.38 L154.71 438.11 L155.21 438.97 L155.71 439.94 L156.21 441.03 L156.71 442.23 L157.21 443.54 L157.71 444.96 L158.21 446.48 L158.71 448.10 L159.21 449.82 L159.71 451.64 L160.21 453.54 L160.71 455.52 L161.21 457.59 L161.71 459.73 L162.21 461.94 L162.71 464.21 L163.21 466.55 L163.71 468.93 L164.21 471.37 L164.71 473.85 L165.21 476.36 L165.71 478.91 L166.21 481.48 L166.71 484.07 L167.21 486.68 L167.71 489.29 L168.21 491.90 L168.71 494.51 L169.21 497.11 L169.71 499.69 L170.21 502.24 L170.71 504.77 L171.21 507.27 L171.71 509.72 L172.21 512.12 L172.71 514.48 L173.21 516.77 L173.71 519.01 L174.21 521.17 L174.71 523.27 L175.21 525.28 L175.71 527.22 L176.21 529.06 L176.71 530.82 L177.21 532.48 L177.71 534.04 L178.21 535.49 L178.71 536.85 L179.21 538.09 L179.71 539.22 L180.21 540.23 L180.71 541.13 L181.21 541.91 L181.71 542.57 L182.21 543.10 L182.71 543.51 L183.21 543.80 L183.71 543.96 L184.21 544.00 L184.71 543.91 L185.21 543.69 L185.71 543.35 L186.21 542.88 L186.71 542.29 L187.21 541.58 L187.71 540.75 L188.21 539.80 L188.71 538.73 L189.21 537.55 L189.71 536.26 L190.21 534.86 L190.71 533.36 L191.21 531.76 L191.71 530.05 L192.21 528.26 L192.71 526.37 L193.21 524.40 L193.71 522.35 L194.21 520.23 L194.71 518.03 L195.21 515.77 L195.71 513.45 L196.21 511.07 L196.71 508.64 L197.21 506.17 L197.71 503.66 L198.21 501.12 L198.71 498.55 L199.21 495.96 L199.71 493.36 L200.21 490.75 L200.71 488.14 L201.21 485.53 L201.71 482.93 L202.21 480.35 L202.71 477.78 L203.21 475.25 L203.71 472.75 L204.21 470.29 L204.71 467.87 L205.21 465.51 L205.71 463.20 L206.21 460.96 L206.71 458.78 L207.21 456.67 L207.71 454.64 L208.21 452.69 L208.71 450.83 L209.21 449.05 L209.71 447.38 L210.21 445.80 L210.71 444.32 L211.21 442.95 L211.71 441.68 L212.21 440.53 L212.71 439.50 L213.21 438.57 L213.71 437.77 L214.21 437.09 L214.72 436.53 L215.22 436.10 L215.72 435.79 L216.22 435.60 L216.72 435.55 L217.22 435.61 L217.72 435.80 L218.22 436.12 L218.72 436.56 L219.22 437.13 L219.72 437.82 L220.22 438.63 L220.72 439.56 L221.22 440.60 L221.72 441.76 L222.22 443.03 L222.72 444.41 L223.22 445.89 L223.72 447.48 L224.22 449.16 L224.72 450.94 L225.22 452.81 L225.72 454.76 L226.22 456.80 L226.72 458.91 L227.22 461.09 L227.72 463.34 L228.22 465.65 L228.72 468.02 L229.22 470.44 L229.72 472.90 L230.22 475.40 L230.72 477.94 L231.22 480.50 L231.72 483.09 L232.22 485.69 L232.72 488.30 L233.22 490.91 L233.72 493.52 L234.22 496.12 L234.72 498.71 L235.22 501.28 L235.72 503.82 L236.22 506.32 L236.72 508.79 L237.22 511.22 L237.72 513.59 L238.22 515.91 L238.72 518.17 L239.22 520.36 L239.72 522.48 L240.22 524.53 L240.72 526.49 L241.22 528.37 L241.72 530.16 L242.22 531.86 L242.72 533.46 L243.22 534.95 L243.72 536.35 L244.22 537.63 L244.72 538.80 L245.22 539.86 L245.72 540.80 L246.22 541.63 L246.72 542.33 L247.22 542.91 L247.72 543.37 L248.22 543.71 L248.72 543.92 L249.22 544.00 L249.72 543.95 L250.22 543.78 L250.72 543.47 L251.22 543.02 L251.72 542.45 L252.22 541.75 L252.72 540.92 L253.22 539.97 L253.72 538.90 L254.22 537.70 L254.72 536.39 L255.22 534.96 L255.72 533.42 L256.22 531.77 L256.72 530.02 L257.22 528.18 L257.72 526.23 L258.22 524.20 L258.72 522.08 L259.22 519.89 L259.72 517.61 L260.22 515.27 L260.72 512.87 L261.22 510.41 L261.72 507.89 L262.22 505.33 L262.72 502.74 L263.22 500.10 L263.72 497.45 L264.22 494.77 L264.72 492.07 L265.22 489.37 L265.72 486.67 L266.22 483.97 L266.72 481.29 L267.22 478.62 L267.72 475.98 L268.22 473.37 L268.72 470.80 L269.22 468.27 L269.72 465.79 L270.22 463.37 L270.72 461.01 L271.22 458.72 L271.72 456.50 L272.22 454.35 L272.72 452.29 L273.22 450.32 L273.72 448.45 L274.22 446.67 L274.72 444.99 L275.22 443.42 L275.72 441.95 L276.22 440.60 L276.72 439.37 L277.22 438.26 L277.72 437.27 L278.22 436.40 L278.72 435.66 L279.22 435.05 L279.73 434.57 L280.23 434.22 L280.73 434.00 L281.23 433.91 L281.73 433.96 L282.23 434.16 L282.73 434.50 L283.23 434.99 L283.73 435.61 L284.23 436.38 L284.73 437.29 L285.23 438.34 L285.73 439.53 L286.23 440.84 L286.73 442.29 L287.23 443.86 L287.73 445.55 L288.23 447.36 L288.73 449.29 L289.23 451.32 L289.73 453.46 L290.23 455.71 L290.73 458.04 L291.23 460.47 L291.73 462.98 L292.23 465.56 L292.73 468.22 L293.23 470.95 L293.73 473.73 L294.23 476.57 L294.73 479.46 L295.23 482.38 L295.73 485.34 L296.23 488.32 L296.73 491.32 L297.23 494.34 L297.73 497.36 L298.23 500.38 L298.73 503.38 L299.23 506.38 L299.73 509.35 L300.23 512.29 L300.73 515.19 L301.23 518.06 L301.73 520.87 L302.23 523.62 L302.73 526.32 L303.23 528.94 L303.73 531.49 L304.23 533.95 L304.73 536.33 L305.23 538.62 L305.73 540.81 L306.23 542.90 L306.73 544.88 L307.23 546.75 L307.73 548.50 L308.23 550.13 L308.73 551.64 L309.23 553.02 L309.73 554.27 L310.23 555.38 L310.73 556.36 L311.23 557.20 L311.73 557.89 L312.23 558.45 L312.73 558.86 L313.23 559.13 L313.73 559.25 L314.23 559.22 L314.73 559.00 L315.23 558.59 L315.73 558.00 L316.23 557.22 L316.73 556.26 L317.23 555.11 L317.73 553.79 L318.23 552.29 L318.73 550.62 L319.23 548.78 L319.73 546.78 L320.23 544.63 L320.73 542.32 L321.23 539.86 L321.73 537.26 L322.23 534.53 L322.73 531.68 L323.23 528.70 L323.73 525.61 L324.23 522.41 L324.73 519.12 L325.23 515.74 L325.73 512.27 L326.23 508.74 L326.73 505.14 L327.23 501.49 L327.73 497.79 L328.23 494.06 L328.73 490.30 L329.23 486.53 L329.73 482.74 L330.23 478.96 L330.73 475.19 L331.23 471.44 L331.73 467.72 L332.23 464.03 L332.73 460.40 L333.23 456.82 L333.73 453.31 L334.23 449.87 L334.73 446.52 L335.23 443.26 L335.73 440.10 L336.23 437.04 L336.73 434.10 L337.23 431.29 L337.73 428.60 L338.23 426.05 L338.73 423.64 L339.23 421.38 L339.73 419.27 L340.23 417.33 L340.73 415.55 L341.23 413.93 L341.73 412.49 L342.23 411.23 L342.73 410.14 L343.23 409.24 L343.73 408.52 L344.23 407.99 L344.74 407.64 L345.24 407.49 L345.74 407.52 L346.24 407.71 L346.74 408.08 L347.24 408.62 L347.74 409.32 L348.24 410.19 L348.74 411.23 L349.24 412.42 L349.74 413.78 L350.24 415.29 L350.74 416.96 L351.24 418.77 L351.74 420.73 L352.24 422.83 L352.74 425.07 L353.24 427.43 L353.74 429.93 L354.24 432.55 L354.74 435.28 L355.24 438.12 L355.74 441.06 L356.24 444.11 L356.74 447.24 L357.24 450.45 L357.74 453.74 L358.24 457.11 L358.74 460.53 L359.24 464.01 L359.74 467.53 L360.24 471.10 L360.74 474.69 L361.24 478.31 L361.74 481.95 L362.24 485.60 L362.74 489.24 L363.24 492.88 L363.74 496.50 L364.24 500.10 L364.74 503.66 L365.24 507.19 L365.74 510.67 L366.24 514.10 L366.74 517.46 L367.24 520.76 L367.74 523.98 L368.24 527.11 L368.74 530.16 L369.24 533.11 L369.74 535.96 L370.24 538.69 L370.74 541.32 L371.24 543.82 L371.74 546.19 L372.24 548.43 L372.74 550.54 L373.24 552.51 L373.74 554.33 L374.24 556.00 L374.74 557.52 L375.24 558.88 L375.74 560.09 L376.24 561.13 L376.74 562.01 L377.24 562.72 L377.74 563.26 L378.24 563.64 L378.74 563.85 L379.24 563.88 L379.74 563.73 L380.24 563.39 L380.74 562.85 L381.24 562.12 L381.74 561.20 L382.24 560.10 L382.74 558.81 L383.24 557.33 L383.74 555.68 L384.24 553.86 L384.74 551.87 L385.24 549.71 L385.74 547.40 L386.24 544.93 L386.74 542.32 L387.24 539.56 L387.74 536.68 L388.24 533.66 L388.74 530.53 L389.24 527.29 L389.74 523.95 L390.24 520.51 L390.74 516.98 L391.24 513.38 L391.74 509.72 L392.24 505.99 L392.74 502.21 L393.24 498.40 L393.74 494.55 L394.24 490.69 L394.74 486.81 L395.24 482.93 L395.74 479.06 L396.24 475.21 L396.74 471.39 L397.24 467.60 L397.74 463.87 L398.24 460.18 L398.74 456.57 L399.24 453.02 L399.74 449.57 L400.24 446.20 L400.74 442.93 L401.24 439.78 L401.74 436.74 L402.24 433.82 L402.74 431.03 L403.24 428.39 L403.74 425.89 L404.24 423.54 L404.74 421.34 L405.24 419.31 L405.74 417.45 L406.24 415.76 L406.74 414.25 L407.24 412.92 L407.74 411.77 L408.24 410.81 L408.74 410.03 L409.24 409.45 L409.75 409.06 L410.25 408.87 L410.75 408.86 L411.25 409.05 L411.75 409.43 L412.25 410.00 L412.75 410.76 L413.25 411.70 L413.75 412.83 L414.25 414.14 L414.75 415.63 L415.25 417.29 L415.75 419.13 L416.25 421.13 L416.75 423.29 L417.25 425.61 L417.75 428.07 L418.25 430.69 L418.75 433.44 L419.25 436.32 L419.75 439.33 L420.25 442.46 L420.75 445.69 L421.25 449.03 L421.75 452.46 L422.25 455.98 L422.75 459.58 L423.25 463.24 L423.75 466.97 L424.25 470.74 L424.75 474.56 L425.25 478.41 L425.75 482.28 L426.25 486.17 L426.75 490.07 L427.25 493.95 L427.75 497.83 L428.25 501.68 L428.75 505.50 L429.25 509.27 L429.75 513.00 L430.25 516.66 L430.75 520.26 L431.25 523.78 L431.75 527.21 L432.25 530.55 L432.75 533.79 L433.25 536.92 L433.75 539.93 L434.25 542.81 L434.75 545.56 L435.25 548.18 L435.75 550.65 L436.25 552.97 L436.75 555.13 L437.25 557.13 L437.75 558.97 L438.25 560.63 L438.75 562.12 L439.25 563.43 L439.75 564.56 L440.25 565.51 L440.75 566.27 L441.25 566.84 L441.75 567.22 L442.25 567.41 L442.75 567.41 L443.25 567.24 L443.75 566.88 L444.25 566.35 L444.75 565.64 L445.25 564.76 L445.75 563.71 L446.25 562.49 L446.75 561.10 L447.25 559.55 L447.75 557.84 L448.25 555.97 L448.75 553.95 L449.25 551.78 L449.75 549.47 L450.25 547.02 L450.75 544.44 L451.25 541.73 L451.75 538.91 L452.25 535.96 L452.75 532.91 L453.25 529.76 L453.75 526.52 L454.25 523.19 L454.75 519.78 L455.25 516.30 L455.75 512.75 L456.25 509.15 L456.75 505.50 L457.25 501.81 L457.75 498.09 L458.25 494.34 L458.75 490.59 L459.25 486.82 L459.75 483.05 L460.25 479.30 L460.75 475.56 L461.25 471.86 L461.75 468.18 L462.25 464.55 L462.75 460.97 L463.25 457.45 L463.75 454.00 L464.25 450.62 L464.75 447.32 L465.25 444.12 L465.75 441.01 L466.25 438.00 L466.75 435.10 L467.25 432.33 L467.75 429.67 L468.25 427.14 L468.75 424.75 L469.25 422.50 L469.75 420.39 L470.25 418.43 L470.75 416.63 L471.25 414.98 L471.75 413.49 L472.25 412.17 L472.75 411.02 L473.25 410.04 L473.75 409.23 L474.26 408.60 L474.76 408.14 L475.26 407.86 L475.76 407.75 L476.26 407.83 L476.76 408.09 L477.26 408.53 L477.76 409.16 L478.26 409.98 L478.76 410.97 L479.26 412.14 L479.76 413.49 L480.26 415.00 L480.76 416.69 L481.26 418.54 L481.76 420.56 L482.26 422.72 L482.76 425.04 L483.26 427.51 L483.76 430.11 L484.26 432.85 L484.76 435.72 L485.26 438.71 L485.76 441.81 L486.26 445.02 L486.76 448.33 L487.26 451.73 L487.76 455.21 L488.26 458.77 L488.76 462.40 L489.26 466.08 L489.76 469.82 L490.26 473.60 L490.76 477.42 L491.26 481.25 L491.76 485.11 L492.26 488.97 L492.76 492.83 L493.26 496.68 L493.76 500.51 L494.26 504.31 L494.76 508.07 L495.26 511.79 L495.76 515.45 L496.26 519.05 L496.76 522.58 L497.26 526.03 L497.76 529.39 L498.26 532.65 L498.76 535.82 L499.26 538.87 L499.76 541.81 L500.26 544.62 L500.76 547.30 L501.26 549.85 L501.76 552.25 L502.26 554.50 L502.76 556.61 L503.26 558.55 L503.76 560.33 L504.26 561.95 L504.76 563.39 L505.26 564.66 L505.76 565.76 L506.26 566.67 L506.76 567.40 L507.26 567.96 L507.76 568.32 L508.26 568.50 L508.76 568.50 L509.26 568.31 L509.76 567.94 L510.26 567.39 L510.76 566.65 L511.26 565.74 L511.76 564.65 L512.26 563.38 L512.76 561.94 L513.26 560.33 L513.76 558.56 L514.26 556.63 L514.76 554.54 L515.26 552.30 L515.76 549.91 L516.26 547.38 L516.76 544.72 L517.26 541.93 L517.76 539.02 L518.26 535.99 L518.76 532.85 L519.26 529.62 L519.76 526.29 L520.26 522.88 L520.76 519.38 L521.26 515.82 L521.76 512.20 L522.26 508.53 L522.76 504.81 L523.26 501.06 L523.76 497.28 L524.26 493.48 L524.76 489.68 L525.26 485.87 L525.76 482.07 L526.26 478.30 L526.76 474.54 L527.26 470.83 L527.76 467.16 L528.26 463.54 L528.76 459.98 L529.26 456.49 L529.76 453.08 L530.26 449.76 L530.76 446.53 L531.26 443.40 L531.76 440.38 L532.26 437.47 L532.76 434.69 L533.26 432.03 L533.76 429.51 L534.26 427.13 L534.76 424.90 L535.26 422.82 L535.76 420.89 L536.26 419.13 L536.76 417.53 L537.26 416.10 L537.76 414.84 L538.26 413.76 L538.76 412.85 L539.27 412.12 L539.77 411.58 L540.27 411.22 L540.77 411.04 L541.27 411.05 L541.77 411.24 L542.27 411.63 L542.77 412.21 L543.27 412.97 L543.77 413.92 L544.27 415.06 L544.77 416.37 L545.27 417.86 L545.77 419.53 L546.27 421.37 L546.77 423.37 L547.27 425.53 L547.77 427.85 L548.27 430.32 L548.77 432.93 L549.27 435.68 L549.77 438.56 L550.27 441.57 L550.77 444.69 L551.27 447.92 L551.77 451.25 L552.27 454.67 L552.77 458.18 L553.27 461.76 L553.77 465.41 L554.27 469.12 L554.77 472.87 L555.27 476.67 L555.77 480.50 L556.27 484.34 L556.77 488.21 L557.27 492.07 L557.77 495.92 L558.27 499.76 L558.77 503.58 L559.27 507.36 L559.77 511.09 L560.27 514.77 L560.77 518.39 L561.27 521.94 L561.77 525.41 L562.27 528.79 L562.77 532.07 L563.27 535.25 L563.77 538.32 L564.27 541.26 L564.77 544.08 L565.27 546.77 L565.77 549.32 L566.27 551.71 L566.77 553.96 L567.27 556.05 L567.77 557.97 L568.27 559.73 L568.77 561.32 L569.27 562.73 L569.77 563.96 L570.27 565.00 L570.77 565.87 L571.27 566.54 L571.77 567.03 L572.27 567.33 L572.77 567.43 L573.27 567.36 L573.77 567.10 L574.27 566.66 L574.77 566.04 L575.27 565.25 L575.77 564.28 L576.27 563.14 L576.77 561.83 L577.27 560.36 L577.77 558.72 L578.27 556.91 L578.77 554.96 L579.27 552.85 L579.77 550.60 L580.27 548.21 L580.77 545.68 L581.27 543.02 L581.77 540.23 L582.27 537.33 L582.77 534.32 L583.27 531.21 L583.77 528.00 L584.27 524.70 L584.77 521.32 L585.27 517.87 L585.77 514.35 L586.27 510.77 L586.77 507.15 L587.27 503.48 L587.77 499.78 L588.27 496.06 L588.77 492.32 L589.27 488.58 L589.77 484.84 L590.27 481.11 L590.77 477.40 L591.27 473.71 L591.77 470.07 L592.27 466.46 L592.77 462.92 L593.27 459.43 L593.77 456.01 L594.27 452.67 L594.77 449.41 L595.27 446.25 L595.77 443.19 L596.27 440.23 L596.77 437.39 L597.27 434.66 L597.77 432.07 L598.27 429.60 L598.77 427.28 L599.27 425.10 L599.77 423.06 L600.27 421.18 L600.77 419.46 L601.27 417.90 L601.77 416.50 L602.27 415.28 L602.77 414.22 L603.27 413.34 L603.77 412.63 L604.28 412.10 L604.78 411.75 L605.28 411.58 L605.78 411.59 L606.28 411.80 L606.78 412.19 L607.28 412.78 L607.78 413.56 L608.28 414.53 L608.78 415.69 L609.28 417.03 L609.78 418.54 L610.28 420.24 L610.78 422.11 L611.28 424.14 L611.78 426.34 L612.28 428.70 L612.78 431.20 L613.28 433.85 L613.78 436.64 L614.28 439.56 L614.78 442.61 L615.28 445.77 L615.78 449.04 L616.28 452.41 L616.78 455.87 L617.28 459.42 L617.78 463.04 L618.28 466.73 L618.78 470.47 L619.28 474.27 L619.78 478.10 L620.28 481.95 L620.78 485.83 L621.28 489.71 L621.78 493.60 L622.28 497.47 L622.78 501.33 L623.28 505.16 L623.78 508.94 L624.28 512.68 L624.78 516.36 L625.28 519.98 L625.78 523.51 L626.28 526.97 L626.78 530.33 L627.28 533.59 L627.78 536.73 L628.28 539.77 L628.78 542.67 L629.28 545.45 L629.78 548.08 L630.28 550.57 L630.78 552.91 L631.28 555.09 L631.78 557.11 L632.28 558.96 L632.78 560.63 L633.28 562.13 L633.78 563.45 L634.28 564.58 L634.78 565.53 L635.28 566.29 L635.78 566.86 L636.28 567.23 L636.78 567.42 L637.28 567.41 L637.78 567.22 L638.28 566.86 L638.78 566.32 L639.28 565.61 L639.78 564.73 L640.28 563.68 L640.78 562.46 L641.28 561.07 L641.78 559.53 L642.28 557.83 L642.78 555.97 L643.28 553.96 L643.78 551.81 L644.28 549.51 L644.78 547.08 L645.28 544.52 L645.78 541.84 L646.28 539.04 L646.78 536.13 L647.28 533.11 L647.78 529.99 L648.28 526.79 L648.78 523.49 L649.28 520.13 L649.78 516.69 L650.28 513.19 L650.78 509.64 L651.28 506.05 L651.78 502.42 L652.28 498.75 L652.78 495.07 L653.28 491.38 L653.78 487.68 L654.28 483.99 L654.78 480.31 L655.28 476.65 L655.78 473.03 L656.28 469.44 L656.78 465.89 L657.28 462.40 L657.78 458.97 L658.28 455.62 L658.78 452.34 L659.28 449.14 L659.78 446.04 L660.28 443.03 L660.78 440.13 L661.28 437.35 L661.78 434.68 L662.28 432.14 L662.78 429.73 L663.28 427.45 L663.78 425.31 L664.28 423.33 L664.78 421.49 L665.28 419.81 L665.78 418.28 L666.28 416.92 L666.78 415.72 L667.28 414.69 L667.78 413.83 L668.28 413.14 L668.78 412.63 L669.29 412.29 L669.79 412.13 L670.29 412.14 L670.79 412.34 L671.29 412.72 L671.79 413.28 L672.29 414.02 L672.79 414.94 L673.29 416.04 L673.79 417.32 L674.29 418.76 L674.79 420.37 L675.29 422.15 L675.79 424.09 L676.29 426.18 L676.79 428.42 L677.29 430.81 L677.79 433.34 L678.29 436.00 L678.79 438.79 L679.29 441.69 L679.79 444.72 L680.29 447.85 L680.79 451.07 L681.29 454.39 L681.79 457.80 L682.29 461.27 L682.79 464.82 L683.29 468.43 L683.79 472.08 L684.29 475.78 L684.79 479.51 L685.29 483.27 L685.79 487.04 L686.29 490.81 L686.79 494.59 L687.29 498.35 L687.79 502.09 L688.29 505.81 L688.79 509.48 L689.29 513.11 L689.79 516.68 L690.29 520.19 L690.79 523.63 L691.29 526.99 L691.79 530.26 L692.29 533.44 L692.79 536.51 L693.29 539.47 L693.79 542.31 L694.29 545.03 L694.79 547.62 L695.29 550.07 L695.79 552.38 L696.29 554.54 L696.79 556.54 L697.29 558.39 L697.79 560.08 L698.29 561.60 L698.79 562.95 L699.29 564.13 L699.79 565.13 L700.29 565.96 L700.79 566.60 L701.29 567.06 L701.79 567.34 L702.29 567.43 L702.79 567.35 L703.29 567.07 L703.79 566.61 L704.29 565.96 L704.79 565.14 L705.29 564.13 L705.79 562.94 L706.29 561.58 L706.79 560.05 L707.29 558.34 L707.79 556.48 L708.29 554.45 L708.79 552.27 L709.29 549.94 L709.79 547.46 L710.29 544.84 L710.79 542.10 L711.29 539.22 L711.79 536.23 L712.29 533.13 L712.79 529.92 L713.29 526.61 L713.79 523.22 L714.29 519.74 L714.79 516.19 L715.29 512.58 L715.79 508.91 L716.29 505.20 L716.79 501.44 L717.29 497.66 L717.79 493.86 L718.29 490.05 L718.79 486.23 L719.29 482.42 L719.79 478.63 L720.29 474.87 L720.79 471.13 L721.29 467.44 L721.79 463.81 L722.29 460.23 L722.79 456.72 L723.29 453.29 L723.79 449.95 L724.29 446.70 L724.79 443.55 L725.29 440.50 L725.79 437.58 L726.29 434.78 L726.79 432.10 L727.29 429.57 L727.79 427.17 L728.29 424.92 L728.79 422.83 L729.29 420.89 L729.79 419.12 L730.29 417.51 L730.79 416.08 L731.29 414.81 L731.79 413.73 L732.29 412.82 L732.79 412.10 L733.29 411.56 L733.79 411.20 L734.30 411.04 L734.80 411.05 L735.30 411.25 L735.80 411.64 L736.30 412.20 L736.80 412.95 L737.30 413.88 L737.80 414.98 L738.30 416.26 L738.80 417.71 L739.30 419.33 L739.80 421.12 L740.30 423.06 L740.80 425.16 L741.30 427.41 L741.80 429.81 L742.30 432.35 L742.80 435.02 L743.30 437.82 L743.80 440.74 L744.30 443.77 L744.80 446.91 L745.30 450.16 L745.80 453.49 L746.30 456.91 L746.80 460.41 L747.30 463.97 L747.80 467.60 L748.30 471.28 L748.80 475.00 L749.30 478.75 L749.80 482.53 L750.30 486.33 L750.80 490.13 L751.30 493.94 L751.80 497.74 L752.30 501.51 L752.80 505.26 L753.30 508.97 L753.80 512.64 L754.30 516.26 L754.80 519.81 L755.30 523.29 L755.80 526.70 L756.30 530.01 L756.80 533.24 L757.30 536.36 L757.80 539.37 L758.30 542.27 L758.80 545.05 L759.30 547.69 L759.80 550.20 L760.30 552.57 L760.80 554.80 L761.30 556.87 L761.80 558.78 L762.30 560.53 L762.80 562.12 L763.30 563.54 L763.80 564.79 L764.30 565.86 L764.80 566.75 L765.30 567.46 L765.80 568.00 L766.30 568.34" stroke="#000" stroke-width="7.5" stroke-dasharray="7.1 7" stroke-dashoffset="2"/>
</g>
<g fill="#262626" font-size="44.0">
<text transform="translate(98.60 30.10) scale(0.970 1)" text-anchor="end">2</text>
<text transform="translate(98.60 98.50) scale(0.970 1)" text-anchor="end">1</text>
<text transform="translate(98.60 166.90) scale(0.970 1)" text-anchor="end">0</text>
<text transform="translate(98.60 235.30) scale(0.970 1)" text-anchor="end">-1</text>
<text transform="translate(116.70 311.20) scale(0.970 1)" text-anchor="middle">0.2</text>
<text transform="translate(279.52 311.20) scale(0.970 1)" text-anchor="middle">0.25</text>
<text transform="translate(442.35 311.20) scale(0.970 1)" text-anchor="middle">0.3</text>
<text transform="translate(605.17 311.20) scale(0.970 1)" text-anchor="middle">0.35</text>
<text transform="translate(768.00 311.20) scale(0.970 1)" text-anchor="middle">0.4</text>
<text transform="translate(99.40 396.30) scale(0.970 1)" text-anchor="end">2</text>
<text transform="translate(99.40 505.30) scale(0.970 1)" text-anchor="end">0</text>
<text transform="translate(99.40 614.30) scale(0.970 1)" text-anchor="end">-2</text>
<text transform="translate(116.90 655.60) scale(0.970 1)" text-anchor="middle">0.2</text>
<text transform="translate(279.17 655.60) scale(0.970 1)" text-anchor="middle">0.25</text>
<text transform="translate(441.45 655.60) scale(0.970 1)" text-anchor="middle">0.3</text>
<text transform="translate(603.72 655.60) scale(0.970 1)" text-anchor="middle">0.35</text>
<text transform="translate(766.00 655.60) scale(0.970 1)" text-anchor="middle">0.4</text>
</g>
<g fill="#000" font-size="40.6">
<text transform="translate(28.6 129.65) rotate(-90)" font-size="42.6" text-anchor="middle" textLength="216.9" lengthAdjust="spacingAndGlyphs">Voltage (pu)</text>
<text transform="translate(35.2 469.25) rotate(-90)" font-size="42.6" text-anchor="middle" textLength="224.3" lengthAdjust="spacingAndGlyphs">Current (pu)</text>
<text x="428.15" y="693.8" text-anchor="middle" textLength="180.9" lengthAdjust="spacingAndGlyphs">Time (sec)</text>
</g>
<g fill="#000" font-size="45">
<text x="442.85" y="749.1" text-anchor="middle" textLength="53.2" lengthAdjust="spacingAndGlyphs">(a)</text>
<text x="1166.70" y="732.4" text-anchor="middle" textLength="55.9" lengthAdjust="spacingAndGlyphs">(b)</text>
</g>
<g>
<line x1="452.7" y1="53.1" x2="492.9" y2="53.1" stroke="#000" stroke-width="5.4"/>
<line x1="555.1" y1="55.2" x2="595.6" y2="55.2" stroke="#000" stroke-width="4.9" stroke-dasharray="13.7 4.7 13.6 4.5 4 10"/>
<line x1="650.8" y1="55.2" x2="691.7" y2="55.2" stroke="#0c6fc9" stroke-width="5.4"/>
<g fill="#000" font-size="37.2" text-anchor="middle">
<text transform="translate(521.3 60.0) scale(0.97 1)">R</text>
<text transform="translate(624.0 60.0) scale(0.97 1)">Y</text>
<text transform="translate(706.1 60.0) scale(0.97 1)">B</text>
</g></g>
<g>
<line x1="452.7" y1="395.2" x2="492.9" y2="395.2" stroke="#000" stroke-width="5.4"/>
<line x1="555.1" y1="397.3" x2="595.6" y2="397.3" stroke="#000" stroke-width="4.9" stroke-dasharray="13.7 4.7 13.6 4.5 4 10"/>
<line x1="650.8" y1="397.3" x2="691.7" y2="397.3" stroke="#0c6fc9" stroke-width="5.4"/>
<g fill="#000" font-size="37.2" text-anchor="middle">
<text transform="translate(521.3 402.1) scale(0.97 1)">R</text>
<text transform="translate(624.0 402.1) scale(0.97 1)">Y</text>
<text transform="translate(706.1 402.1) scale(0.97 1)">B</text>
</g></g>
<g transform="translate(1161.55 344.10) scale(1.04744 1)">
<g stroke="#000" stroke-width="2.65" fill="none">
<circle cx="0" cy="0" r="54.60"/>
<circle cx="0" cy="0" r="109.20"/>
<circle cx="0" cy="0" r="163.80"/>
<circle cx="0" cy="0" r="218.40"/>
<circle cx="0" cy="0" r="273.00"/>
<line x1="273.00" y1="-0.00" x2="-273.00" y2="-0.00"/>
<line x1="236.42" y1="-136.50" x2="-236.42" y2="136.50"/>
<line x1="136.50" y1="-236.42" x2="-136.50" y2="236.42"/>
<line x1="0.00" y1="-273.00" x2="-0.00" y2="273.00"/>
<line x1="-136.50" y1="-236.42" x2="136.50" y2="236.42"/>
<line x1="-236.42" y1="-136.50" x2="236.42" y2="136.50"/>
</g>
<path d="M0 0 L-263.70 -70.66 A273.00 273.00 0 0 0 -263.70 70.66 Z" fill="#0072bd" fill-opacity="0.2" stroke="#000" stroke-width="1.05" stroke-linejoin="round"/>
<g fill="#000" font-size="27.9" text-anchor="middle">
<text x="301.16" y="9.80">0</text>
<text x="260.78" y="-140.20">30</text>
<text x="151.75" y="-250.00">60</text>
<text x="-0.43" y="-290.70">90</text>
<text x="-148.65" y="-250.00">120</text>
<text x="-258.49" y="-140.20">150</text>
<text x="-298.82" y="9.80">180</text>
<text x="-259.25" y="160.00">210</text>
<text x="-148.89" y="269.80">240</text>
<text x="1.24" y="310.30">270</text>
<text x="151.08" y="269.80">300</text>
<text x="260.97" y="160.00">330</text>
</g>
<g fill="#000" font-size="27.9">
<text transform="translate(21.72 -62.50) scale(0.9547 1)">0.2</text>
<text transform="translate(29.36 -116.50) scale(0.9547 1)">0.4</text>
<text transform="translate(37.00 -170.50) scale(0.9547 1)">0.6</text>
<text transform="translate(44.63 -224.50) scale(0.9547 1)">0.8</text>
<text transform="translate(51.98 -278.50) scale(0.9547 1)">1</text>
</g>
<text x="-189.37" y="-110.30" font-size="27.2" fill="#000" textLength="203.8" lengthAdjust="spacingAndGlyphs">δ+ for BCG Fault</text>
<line x1="-92.56" y1="-136.50" x2="-38.71" y2="-227.80" stroke="#000" stroke-width="1.55"/>
<path d="M-31.08 -243.10 L-35.37 -216.10 L-40.34 -226.50 L-52.18 -225.70 Z" fill="#000"/>
<g stroke="#de5218" stroke-width="1.6" fill="none">
<line x1="-28.84" y1="-244.90" x2="-13.84" y2="-244.90"/>
<line x1="-21.34" y1="-252.40" x2="-21.34" y2="-237.40"/>
<line x1="-26.64" y1="-250.20" x2="-16.03" y2="-239.60"/>
<line x1="-26.64" y1="-239.60" x2="-16.03" y2="-250.20"/>
</g>
</g>
</svg>
</body></html>
